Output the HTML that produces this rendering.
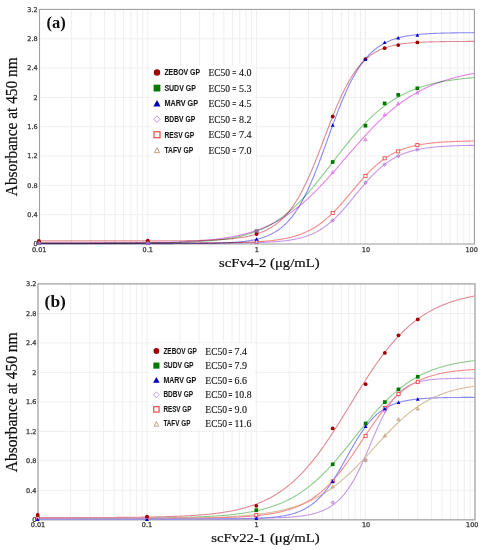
<!DOCTYPE html>
<html><head><meta charset="utf-8"><title>ELISA binding curves</title><style>
html,body{margin:0;padding:0;background:#fff;}
body{width:484px;height:550px;overflow:hidden;}
svg{display:block;}
.tk{font-family:"DejaVu Sans","Liberation Sans",sans-serif;font-size:6.5px;fill:#444;stroke:#444;stroke-width:0.32px;}
.lgn{font-family:"Liberation Sans","DejaVu Sans",sans-serif;font-size:8.4px;font-weight:bold;fill:#1a1a1a;stroke:#1a1a1a;stroke-width:0.1px;}
.ec{font-family:"Liberation Serif",serif;font-size:9.8px;fill:#111;stroke:#111;stroke-width:0.12px;}
.eq{font-weight:bold;}
.ttl{font-family:"Liberation Serif",serif;font-size:13px;fill:#111;stroke:#111;stroke-width:0.22px;}
.pl{font-family:"Liberation Serif",serif;font-size:16.3px;font-weight:bold;fill:#111;}
</style></head><body>
<svg width="484" height="550" viewBox="0 0 484 550">
<rect width="484" height="550" fill="#fff"/>
<line x1="71.67" y1="9.5" x2="71.67" y2="244.0" stroke="#efefef" stroke-width="1"/>
<line x1="90.83" y1="9.5" x2="90.83" y2="244.0" stroke="#efefef" stroke-width="1"/>
<line x1="104.43" y1="9.5" x2="104.43" y2="244.0" stroke="#efefef" stroke-width="1"/>
<line x1="114.98" y1="9.5" x2="114.98" y2="244.0" stroke="#efefef" stroke-width="1"/>
<line x1="123.60" y1="9.5" x2="123.60" y2="244.0" stroke="#efefef" stroke-width="1"/>
<line x1="130.89" y1="9.5" x2="130.89" y2="244.0" stroke="#efefef" stroke-width="1"/>
<line x1="137.20" y1="9.5" x2="137.20" y2="244.0" stroke="#efefef" stroke-width="1"/>
<line x1="142.77" y1="9.5" x2="142.77" y2="244.0" stroke="#efefef" stroke-width="1"/>
<line x1="147.75" y1="9.5" x2="147.75" y2="244.0" stroke="#efefef" stroke-width="1"/>
<line x1="180.52" y1="9.5" x2="180.52" y2="244.0" stroke="#efefef" stroke-width="1"/>
<line x1="199.68" y1="9.5" x2="199.68" y2="244.0" stroke="#efefef" stroke-width="1"/>
<line x1="213.28" y1="9.5" x2="213.28" y2="244.0" stroke="#efefef" stroke-width="1"/>
<line x1="223.83" y1="9.5" x2="223.83" y2="244.0" stroke="#efefef" stroke-width="1"/>
<line x1="232.45" y1="9.5" x2="232.45" y2="244.0" stroke="#efefef" stroke-width="1"/>
<line x1="239.74" y1="9.5" x2="239.74" y2="244.0" stroke="#efefef" stroke-width="1"/>
<line x1="246.05" y1="9.5" x2="246.05" y2="244.0" stroke="#efefef" stroke-width="1"/>
<line x1="251.62" y1="9.5" x2="251.62" y2="244.0" stroke="#efefef" stroke-width="1"/>
<line x1="256.60" y1="9.5" x2="256.60" y2="244.0" stroke="#efefef" stroke-width="1"/>
<line x1="289.37" y1="9.5" x2="289.37" y2="244.0" stroke="#efefef" stroke-width="1"/>
<line x1="308.53" y1="9.5" x2="308.53" y2="244.0" stroke="#efefef" stroke-width="1"/>
<line x1="322.13" y1="9.5" x2="322.13" y2="244.0" stroke="#efefef" stroke-width="1"/>
<line x1="332.68" y1="9.5" x2="332.68" y2="244.0" stroke="#efefef" stroke-width="1"/>
<line x1="341.30" y1="9.5" x2="341.30" y2="244.0" stroke="#efefef" stroke-width="1"/>
<line x1="348.59" y1="9.5" x2="348.59" y2="244.0" stroke="#efefef" stroke-width="1"/>
<line x1="354.90" y1="9.5" x2="354.90" y2="244.0" stroke="#efefef" stroke-width="1"/>
<line x1="360.47" y1="9.5" x2="360.47" y2="244.0" stroke="#efefef" stroke-width="1"/>
<line x1="365.45" y1="9.5" x2="365.45" y2="244.0" stroke="#efefef" stroke-width="1"/>
<line x1="398.22" y1="9.5" x2="398.22" y2="244.0" stroke="#efefef" stroke-width="1"/>
<line x1="417.38" y1="9.5" x2="417.38" y2="244.0" stroke="#efefef" stroke-width="1"/>
<line x1="430.98" y1="9.5" x2="430.98" y2="244.0" stroke="#efefef" stroke-width="1"/>
<line x1="441.53" y1="9.5" x2="441.53" y2="244.0" stroke="#efefef" stroke-width="1"/>
<line x1="450.15" y1="9.5" x2="450.15" y2="244.0" stroke="#efefef" stroke-width="1"/>
<line x1="457.44" y1="9.5" x2="457.44" y2="244.0" stroke="#efefef" stroke-width="1"/>
<line x1="463.75" y1="9.5" x2="463.75" y2="244.0" stroke="#efefef" stroke-width="1"/>
<line x1="469.32" y1="9.5" x2="469.32" y2="244.0" stroke="#efefef" stroke-width="1"/>
<line x1="38.90" y1="214.69" x2="474.30" y2="214.69" stroke="#efefef" stroke-width="1"/>
<line x1="38.90" y1="185.38" x2="474.30" y2="185.38" stroke="#efefef" stroke-width="1"/>
<line x1="38.90" y1="156.06" x2="474.30" y2="156.06" stroke="#efefef" stroke-width="1"/>
<line x1="38.90" y1="126.75" x2="474.30" y2="126.75" stroke="#efefef" stroke-width="1"/>
<line x1="38.90" y1="97.44" x2="474.30" y2="97.44" stroke="#efefef" stroke-width="1"/>
<line x1="38.90" y1="68.12" x2="474.30" y2="68.12" stroke="#efefef" stroke-width="1"/>
<line x1="38.90" y1="38.81" x2="474.30" y2="38.81" stroke="#efefef" stroke-width="1"/>
<rect x="151.5" y="65.5" width="104" height="91.5" fill="#fff"/>
<rect x="39.5" y="9.4" width="434.90" height="234.60" fill="none" stroke="#a0a0a0" stroke-width="1.1"/>
<polyline points="38.90,243.02 39.77,243.02 40.65,243.02 41.52,243.02 42.39,243.02 43.26,243.02 44.14,243.02 45.01,243.02 45.88,243.02 46.75,243.02 47.63,243.02 48.50,243.02 49.37,243.02 50.24,243.02 51.12,243.02 51.99,243.02 52.86,243.02 53.73,243.02 54.61,243.02 55.48,243.02 56.35,243.02 57.22,243.02 58.10,243.02 58.97,243.02 59.84,243.02 60.71,243.02 61.59,243.02 62.46,243.02 63.33,243.02 64.20,243.02 65.08,243.02 65.95,243.02 66.82,243.02 67.69,243.02 68.57,243.02 69.44,243.02 70.31,243.02 71.18,243.02 72.06,243.02 72.93,243.02 73.80,243.02 74.67,243.02 75.55,243.02 76.42,243.02 77.29,243.02 78.16,243.02 79.04,243.02 79.91,243.02 80.78,243.02 81.65,243.02 82.53,243.02 83.40,243.02 84.27,243.02 85.14,243.02 86.02,243.02 86.89,243.02 87.76,243.02 88.64,243.02 89.51,243.02 90.38,243.02 91.25,243.02 92.13,243.02 93.00,243.02 93.87,243.02 94.74,243.02 95.62,243.02 96.49,243.02 97.36,243.02 98.23,243.02 99.11,243.02 99.98,243.02 100.85,243.02 101.72,243.02 102.60,243.02 103.47,243.02 104.34,243.02 105.21,243.02 106.09,243.02 106.96,243.02 107.83,243.02 108.70,243.02 109.58,243.02 110.45,243.02 111.32,243.02 112.19,243.02 113.07,243.02 113.94,243.02 114.81,243.02 115.68,243.02 116.56,243.02 117.43,243.02 118.30,243.02 119.17,243.02 120.05,243.02 120.92,243.02 121.79,243.01 122.66,243.01 123.54,243.01 124.41,243.01 125.28,243.01 126.15,243.01 127.03,243.01 127.90,243.01 128.77,243.01 129.64,243.01 130.52,243.01 131.39,243.01 132.26,243.01 133.13,243.01 134.01,243.01 134.88,243.01 135.75,243.01 136.63,243.01 137.50,243.01 138.37,243.01 139.24,243.01 140.12,243.01 140.99,243.01 141.86,243.01 142.73,243.01 143.61,243.01 144.48,243.01 145.35,243.01 146.22,243.01 147.10,243.01 147.97,243.01 148.84,243.01 149.71,243.01 150.59,243.01 151.46,243.01 152.33,243.01 153.20,243.01 154.08,243.01 154.95,243.01 155.82,243.01 156.69,243.00 157.57,243.00 158.44,243.00 159.31,243.00 160.18,243.00 161.06,243.00 161.93,243.00 162.80,243.00 163.67,243.00 164.55,243.00 165.42,243.00 166.29,243.00 167.16,243.00 168.04,243.00 168.91,243.00 169.78,242.99 170.65,242.99 171.53,242.99 172.40,242.99 173.27,242.99 174.14,242.99 175.02,242.99 175.89,242.99 176.76,242.99 177.63,242.98 178.51,242.98 179.38,242.98 180.25,242.98 181.12,242.98 182.00,242.98 182.87,242.98 183.74,242.97 184.62,242.97 185.49,242.97 186.36,242.97 187.23,242.97 188.11,242.96 188.98,242.96 189.85,242.96 190.72,242.96 191.60,242.95 192.47,242.95 193.34,242.95 194.21,242.95 195.09,242.94 195.96,242.94 196.83,242.94 197.70,242.93 198.58,242.93 199.45,242.93 200.32,242.92 201.19,242.92 202.07,242.92 202.94,242.91 203.81,242.91 204.68,242.90 205.56,242.90 206.43,242.89 207.30,242.89 208.17,242.88 209.05,242.88 209.92,242.87 210.79,242.87 211.66,242.86 212.54,242.85 213.41,242.85 214.28,242.84 215.15,242.83 216.03,242.82 216.90,242.82 217.77,242.81 218.64,242.80 219.52,242.79 220.39,242.78 221.26,242.77 222.13,242.76 223.01,242.75 223.88,242.74 224.75,242.73 225.62,242.72 226.50,242.70 227.37,242.69 228.24,242.68 229.11,242.66 229.99,242.65 230.86,242.64 231.73,242.62 232.61,242.60 233.48,242.59 234.35,242.57 235.22,242.55 236.10,242.53 236.97,242.51 237.84,242.49 238.71,242.47 239.59,242.45 240.46,242.42 241.33,242.40 242.20,242.37 243.08,242.35 243.95,242.32 244.82,242.29 245.69,242.26 246.57,242.23 247.44,242.20 248.31,242.17 249.18,242.13 250.06,242.10 250.93,242.06 251.80,242.02 252.67,241.98 253.55,241.94 254.42,241.89 255.29,241.85 256.16,241.80 257.04,241.75 257.91,241.70 258.78,241.65 259.65,241.59 260.53,241.53 261.40,241.47 262.27,241.41 263.14,241.35 264.02,241.28 264.89,241.21 265.76,241.14 266.63,241.06 267.51,240.98 268.38,240.90 269.25,240.81 270.12,240.73 271.00,240.63 271.87,240.54 272.74,240.44 273.61,240.34 274.49,240.23 275.36,240.12 276.23,240.00 277.10,239.88 277.98,239.76 278.85,239.63 279.72,239.49 280.59,239.35 281.47,239.21 282.34,239.06 283.21,238.90 284.09,238.74 284.96,238.57 285.83,238.40 286.70,238.22 287.58,238.03 288.45,237.83 289.32,237.63 290.19,237.42 291.07,237.21 291.94,236.98 292.81,236.75 293.68,236.51 294.56,236.26 295.43,236.00 296.30,235.73 297.17,235.45 298.05,235.16 298.92,234.86 299.79,234.56 300.66,234.24 301.54,233.91 302.41,233.57 303.28,233.22 304.15,232.85 305.03,232.48 305.90,232.09 306.77,231.69 307.64,231.27 308.52,230.85 309.39,230.41 310.26,229.95 311.13,229.48 312.01,229.00 312.88,228.51 313.75,227.99 314.62,227.47 315.50,226.93 316.37,226.37 317.24,225.80 318.11,225.21 318.99,224.61 319.86,223.99 320.73,223.35 321.60,222.70 322.48,222.03 323.35,221.35 324.22,220.65 325.09,219.93 325.97,219.20 326.84,218.45 327.71,217.68 328.58,216.90 329.46,216.11 330.33,215.29 331.20,214.46 332.08,213.62 332.95,212.76 333.82,211.89 334.69,211.00 335.57,210.10 336.44,209.19 337.31,208.26 338.18,207.32 339.06,206.37 339.93,205.41 340.80,204.43 341.67,203.45 342.55,202.46 343.42,201.46 344.29,200.45 345.16,199.43 346.04,198.41 346.91,197.38 347.78,196.35 348.65,195.32 349.53,194.28 350.40,193.24 351.27,192.19 352.14,191.15 353.02,190.11 353.89,189.06 354.76,188.03 355.63,186.99 356.51,185.96 357.38,184.93 358.25,183.91 359.12,182.89 360.00,181.88 360.87,180.88 361.74,179.89 362.61,178.90 363.49,177.93 364.36,176.97 365.23,176.02 366.10,175.08 366.98,174.15 367.85,173.24 368.72,172.33 369.59,171.45 370.47,170.58 371.34,169.72 372.21,168.87 373.08,168.05 373.96,167.23 374.83,166.44 375.70,165.66 376.57,164.89 377.45,164.14 378.32,163.41 379.19,162.70 380.07,162.00 380.94,161.31 381.81,160.65 382.68,160.00 383.56,159.37 384.43,158.75 385.30,158.15 386.17,157.56 387.05,156.99 387.92,156.44 388.79,155.90 389.66,155.38 390.54,154.87 391.41,154.38 392.28,153.90 393.15,153.43 394.03,152.98 394.90,152.55 395.77,152.12 396.64,151.71 397.52,151.32 398.39,150.93 399.26,150.56 400.13,150.20 401.01,149.85 401.88,149.52 402.75,149.19 403.62,148.88 404.50,148.58 405.37,148.28 406.24,148.00 407.11,147.73 407.99,147.46 408.86,147.21 409.73,146.96 410.60,146.72 411.48,146.50 412.35,146.28 413.22,146.06 414.09,145.86 414.97,145.66 415.84,145.47 416.71,145.29 417.58,145.11 418.46,144.94 419.33,144.78 420.20,144.62 421.07,144.47 421.95,144.32 422.82,144.18 423.69,144.05 424.56,143.92 425.44,143.79 426.31,143.67 427.18,143.55 428.06,143.44 428.93,143.33 429.80,143.23 430.67,143.13 431.55,143.04 432.42,142.94 433.29,142.86 434.16,142.77 435.04,142.69 435.91,142.61 436.78,142.53 437.65,142.46 438.53,142.39 439.40,142.33 440.27,142.26 441.14,142.20 442.02,142.14 442.89,142.08 443.76,142.03 444.63,141.97 445.51,141.92 446.38,141.88 447.25,141.83 448.12,141.78 449.00,141.74 449.87,141.70 450.74,141.66 451.61,141.62 452.49,141.58 453.36,141.55 454.23,141.51 455.10,141.48 455.98,141.45 456.85,141.42 457.72,141.39 458.59,141.36 459.47,141.34 460.34,141.31 461.21,141.29 462.08,141.26 462.96,141.24 463.83,141.22 464.70,141.20 465.57,141.18 466.45,141.16 467.32,141.14 468.19,141.12 469.06,141.11 469.94,141.09 470.81,141.07 471.68,141.06 472.55,141.05 473.43,141.03 474.30,141.02" fill="none" stroke="#f88a8a" stroke-width="1.1"  style="mix-blend-mode:multiply"/>
<polyline points="38.90,243.22 39.77,243.22 40.65,243.22 41.52,243.22 42.39,243.22 43.26,243.22 44.14,243.22 45.01,243.22 45.88,243.22 46.75,243.22 47.63,243.22 48.50,243.22 49.37,243.22 50.24,243.22 51.12,243.22 51.99,243.22 52.86,243.22 53.73,243.22 54.61,243.22 55.48,243.22 56.35,243.22 57.22,243.22 58.10,243.22 58.97,243.22 59.84,243.22 60.71,243.22 61.59,243.22 62.46,243.22 63.33,243.22 64.20,243.22 65.08,243.22 65.95,243.22 66.82,243.22 67.69,243.22 68.57,243.22 69.44,243.21 70.31,243.21 71.18,243.21 72.06,243.21 72.93,243.21 73.80,243.21 74.67,243.21 75.55,243.21 76.42,243.21 77.29,243.21 78.16,243.21 79.04,243.21 79.91,243.21 80.78,243.21 81.65,243.21 82.53,243.21 83.40,243.21 84.27,243.20 85.14,243.20 86.02,243.20 86.89,243.20 87.76,243.20 88.64,243.20 89.51,243.20 90.38,243.20 91.25,243.20 92.13,243.20 93.00,243.19 93.87,243.19 94.74,243.19 95.62,243.19 96.49,243.19 97.36,243.19 98.23,243.19 99.11,243.19 99.98,243.18 100.85,243.18 101.72,243.18 102.60,243.18 103.47,243.18 104.34,243.18 105.21,243.17 106.09,243.17 106.96,243.17 107.83,243.17 108.70,243.17 109.58,243.17 110.45,243.16 111.32,243.16 112.19,243.16 113.07,243.16 113.94,243.15 114.81,243.15 115.68,243.15 116.56,243.15 117.43,243.14 118.30,243.14 119.17,243.14 120.05,243.14 120.92,243.13 121.79,243.13 122.66,243.13 123.54,243.12 124.41,243.12 125.28,243.12 126.15,243.11 127.03,243.11 127.90,243.10 128.77,243.10 129.64,243.10 130.52,243.09 131.39,243.09 132.26,243.08 133.13,243.08 134.01,243.07 134.88,243.07 135.75,243.06 136.63,243.06 137.50,243.05 138.37,243.05 139.24,243.04 140.12,243.03 140.99,243.03 141.86,243.02 142.73,243.01 143.61,243.01 144.48,243.00 145.35,242.99 146.22,242.98 147.10,242.98 147.97,242.97 148.84,242.96 149.71,242.95 150.59,242.94 151.46,242.93 152.33,242.92 153.20,242.91 154.08,242.90 154.95,242.89 155.82,242.88 156.69,242.87 157.57,242.86 158.44,242.85 159.31,242.83 160.18,242.82 161.06,242.81 161.93,242.79 162.80,242.78 163.67,242.77 164.55,242.75 165.42,242.74 166.29,242.72 167.16,242.70 168.04,242.69 168.91,242.67 169.78,242.65 170.65,242.63 171.53,242.61 172.40,242.59 173.27,242.57 174.14,242.55 175.02,242.53 175.89,242.51 176.76,242.48 177.63,242.46 178.51,242.44 179.38,242.41 180.25,242.38 181.12,242.36 182.00,242.33 182.87,242.30 183.74,242.27 184.62,242.24 185.49,242.21 186.36,242.18 187.23,242.14 188.11,242.11 188.98,242.07 189.85,242.03 190.72,242.00 191.60,241.96 192.47,241.92 193.34,241.87 194.21,241.83 195.09,241.79 195.96,241.74 196.83,241.69 197.70,241.65 198.58,241.60 199.45,241.54 200.32,241.49 201.19,241.44 202.07,241.38 202.94,241.32 203.81,241.26 204.68,241.20 205.56,241.13 206.43,241.07 207.30,241.00 208.17,240.93 209.05,240.86 209.92,240.78 210.79,240.71 211.66,240.63 212.54,240.55 213.41,240.46 214.28,240.38 215.15,240.29 216.03,240.20 216.90,240.10 217.77,240.00 218.64,239.90 219.52,239.80 220.39,239.69 221.26,239.59 222.13,239.47 223.01,239.36 223.88,239.24 224.75,239.11 225.62,238.99 226.50,238.86 227.37,238.72 228.24,238.59 229.11,238.44 229.99,238.30 230.86,238.15 231.73,237.99 232.61,237.83 233.48,237.67 234.35,237.50 235.22,237.33 236.10,237.15 236.97,236.97 237.84,236.78 238.71,236.59 239.59,236.39 240.46,236.19 241.33,235.98 242.20,235.76 243.08,235.54 243.95,235.31 244.82,235.08 245.69,234.84 246.57,234.59 247.44,234.34 248.31,234.08 249.18,233.81 250.06,233.54 250.93,233.26 251.80,232.97 252.67,232.67 253.55,232.37 254.42,232.06 255.29,231.74 256.16,231.41 257.04,231.07 257.91,230.73 258.78,230.38 259.65,230.02 260.53,229.65 261.40,229.27 262.27,228.88 263.14,228.48 264.02,228.07 264.89,227.66 265.76,227.23 266.63,226.79 267.51,226.35 268.38,225.89 269.25,225.42 270.12,224.94 271.00,224.45 271.87,223.95 272.74,223.44 273.61,222.92 274.49,222.39 275.36,221.85 276.23,221.29 277.10,220.72 277.98,220.15 278.85,219.56 279.72,218.95 280.59,218.34 281.47,217.71 282.34,217.08 283.21,216.43 284.09,215.77 284.96,215.09 285.83,214.40 286.70,213.71 287.58,212.99 288.45,212.27 289.32,211.54 290.19,210.79 291.07,210.03 291.94,209.25 292.81,208.47 293.68,207.67 294.56,206.86 295.43,206.04 296.30,205.21 297.17,204.36 298.05,203.51 298.92,202.64 299.79,201.76 300.66,200.86 301.54,199.96 302.41,199.04 303.28,198.12 304.15,197.18 305.03,196.23 305.90,195.27 306.77,194.31 307.64,193.33 308.52,192.34 309.39,191.34 310.26,190.33 311.13,189.32 312.01,188.29 312.88,187.26 313.75,186.21 314.62,185.16 315.50,184.11 316.37,183.04 317.24,181.97 318.11,180.89 318.99,179.80 319.86,178.71 320.73,177.61 321.60,176.51 322.48,175.41 323.35,174.29 324.22,173.18 325.09,172.06 325.97,170.94 326.84,169.81 327.71,168.68 328.58,167.55 329.46,166.42 330.33,165.29 331.20,164.15 332.08,163.02 332.95,161.88 333.82,160.75 334.69,159.62 335.57,158.48 336.44,157.35 337.31,156.22 338.18,155.10 339.06,153.97 339.93,152.85 340.80,151.73 341.67,150.62 342.55,149.51 343.42,148.40 344.29,147.30 345.16,146.21 346.04,145.12 346.91,144.03 347.78,142.95 348.65,141.88 349.53,140.82 350.40,139.76 351.27,138.71 352.14,137.67 353.02,136.63 353.89,135.61 354.76,134.59 355.63,133.58 356.51,132.58 357.38,131.59 358.25,130.61 359.12,129.63 360.00,128.67 360.87,127.72 361.74,126.77 362.61,125.84 363.49,124.92 364.36,124.00 365.23,123.10 366.10,122.21 366.98,121.33 367.85,120.46 368.72,119.60 369.59,118.75 370.47,117.91 371.34,117.09 372.21,116.27 373.08,115.47 373.96,114.68 374.83,113.90 375.70,113.13 376.57,112.37 377.45,111.62 378.32,110.88 379.19,110.16 380.07,109.44 380.94,108.74 381.81,108.05 382.68,107.37 383.56,106.70 384.43,106.04 385.30,105.39 386.17,104.75 387.05,104.13 387.92,103.51 388.79,102.91 389.66,102.31 390.54,101.73 391.41,101.15 392.28,100.59 393.15,100.04 394.03,99.49 394.90,98.96 395.77,98.44 396.64,97.92 397.52,97.42 398.39,96.92 399.26,96.44 400.13,95.96 401.01,95.50 401.88,95.04 402.75,94.59 403.62,94.15 404.50,93.72 405.37,93.30 406.24,92.88 407.11,92.48 407.99,92.08 408.86,91.69 409.73,91.31 410.60,90.93 411.48,90.57 412.35,90.21 413.22,89.86 414.09,89.51 414.97,89.18 415.84,88.85 416.71,88.52 417.58,88.21 418.46,87.90 419.33,87.60 420.20,87.30 421.07,87.01 421.95,86.73 422.82,86.45 423.69,86.18 424.56,85.92 425.44,85.66 426.31,85.40 427.18,85.16 428.06,84.91 428.93,84.68 429.80,84.44 430.67,84.22 431.55,84.00 432.42,83.78 433.29,83.57 434.16,83.36 435.04,83.16 435.91,82.96 436.78,82.77 437.65,82.58 438.53,82.40 439.40,82.22 440.27,82.04 441.14,81.87 442.02,81.70 442.89,81.54 443.76,81.38 444.63,81.22 445.51,81.07 446.38,80.92 447.25,80.77 448.12,80.63 449.00,80.49 449.87,80.35 450.74,80.22 451.61,80.09 452.49,79.96 453.36,79.84 454.23,79.72 455.10,79.60 455.98,79.49 456.85,79.38 457.72,79.27 458.59,79.16 459.47,79.05 460.34,78.95 461.21,78.85 462.08,78.75 462.96,78.66 463.83,78.57 464.70,78.48 465.57,78.39 466.45,78.30 467.32,78.22 468.19,78.14 469.06,78.06 469.94,77.98 470.81,77.90 471.68,77.83 472.55,77.75 473.43,77.68 474.30,77.61" fill="none" stroke="#8ccc8c" stroke-width="1.1"  style="mix-blend-mode:multiply"/>
<polyline points="38.90,240.91 39.77,240.91 40.65,240.91 41.52,240.91 42.39,240.91 43.26,240.91 44.14,240.91 45.01,240.91 45.88,240.91 46.75,240.91 47.63,240.91 48.50,240.91 49.37,240.91 50.24,240.91 51.12,240.91 51.99,240.91 52.86,240.91 53.73,240.91 54.61,240.91 55.48,240.91 56.35,240.91 57.22,240.91 58.10,240.91 58.97,240.91 59.84,240.91 60.71,240.91 61.59,240.91 62.46,240.91 63.33,240.91 64.20,240.91 65.08,240.91 65.95,240.91 66.82,240.91 67.69,240.91 68.57,240.91 69.44,240.91 70.31,240.91 71.18,240.91 72.06,240.91 72.93,240.91 73.80,240.91 74.67,240.91 75.55,240.91 76.42,240.91 77.29,240.91 78.16,240.91 79.04,240.91 79.91,240.91 80.78,240.91 81.65,240.91 82.53,240.91 83.40,240.91 84.27,240.90 85.14,240.90 86.02,240.90 86.89,240.90 87.76,240.90 88.64,240.90 89.51,240.90 90.38,240.90 91.25,240.90 92.13,240.90 93.00,240.90 93.87,240.90 94.74,240.90 95.62,240.90 96.49,240.90 97.36,240.90 98.23,240.90 99.11,240.90 99.98,240.90 100.85,240.90 101.72,240.90 102.60,240.90 103.47,240.90 104.34,240.90 105.21,240.90 106.09,240.90 106.96,240.90 107.83,240.90 108.70,240.90 109.58,240.90 110.45,240.90 111.32,240.90 112.19,240.90 113.07,240.90 113.94,240.90 114.81,240.90 115.68,240.90 116.56,240.90 117.43,240.90 118.30,240.90 119.17,240.90 120.05,240.90 120.92,240.90 121.79,240.90 122.66,240.89 123.54,240.89 124.41,240.89 125.28,240.89 126.15,240.89 127.03,240.89 127.90,240.89 128.77,240.89 129.64,240.89 130.52,240.89 131.39,240.89 132.26,240.89 133.13,240.89 134.01,240.89 134.88,240.88 135.75,240.88 136.63,240.88 137.50,240.88 138.37,240.88 139.24,240.88 140.12,240.88 140.99,240.88 141.86,240.88 142.73,240.88 143.61,240.87 144.48,240.87 145.35,240.87 146.22,240.87 147.10,240.87 147.97,240.87 148.84,240.86 149.71,240.86 150.59,240.86 151.46,240.86 152.33,240.86 153.20,240.85 154.08,240.85 154.95,240.85 155.82,240.85 156.69,240.85 157.57,240.84 158.44,240.84 159.31,240.84 160.18,240.83 161.06,240.83 161.93,240.83 162.80,240.82 163.67,240.82 164.55,240.82 165.42,240.81 166.29,240.81 167.16,240.81 168.04,240.80 168.91,240.80 169.78,240.79 170.65,240.79 171.53,240.78 172.40,240.78 173.27,240.77 174.14,240.77 175.02,240.76 175.89,240.75 176.76,240.75 177.63,240.74 178.51,240.73 179.38,240.73 180.25,240.72 181.12,240.71 182.00,240.70 182.87,240.69 183.74,240.68 184.62,240.68 185.49,240.67 186.36,240.66 187.23,240.64 188.11,240.63 188.98,240.62 189.85,240.61 190.72,240.60 191.60,240.58 192.47,240.57 193.34,240.56 194.21,240.54 195.09,240.53 195.96,240.51 196.83,240.49 197.70,240.48 198.58,240.46 199.45,240.44 200.32,240.42 201.19,240.40 202.07,240.38 202.94,240.36 203.81,240.33 204.68,240.31 205.56,240.28 206.43,240.26 207.30,240.23 208.17,240.20 209.05,240.17 209.92,240.14 210.79,240.11 211.66,240.08 212.54,240.04 213.41,240.00 214.28,239.97 215.15,239.93 216.03,239.88 216.90,239.84 217.77,239.80 218.64,239.75 219.52,239.70 220.39,239.65 221.26,239.60 222.13,239.54 223.01,239.49 223.88,239.43 224.75,239.36 225.62,239.30 226.50,239.23 227.37,239.16 228.24,239.09 229.11,239.01 229.99,238.93 230.86,238.85 231.73,238.76 232.61,238.67 233.48,238.58 234.35,238.48 235.22,238.38 236.10,238.27 236.97,238.16 237.84,238.05 238.71,237.93 239.59,237.81 240.46,237.68 241.33,237.54 242.20,237.40 243.08,237.25 243.95,237.10 244.82,236.94 245.69,236.78 246.57,236.60 247.44,236.42 248.31,236.24 249.18,236.04 250.06,235.84 250.93,235.63 251.80,235.41 252.67,235.18 253.55,234.95 254.42,234.70 255.29,234.44 256.16,234.17 257.04,233.90 257.91,233.61 258.78,233.30 259.65,232.99 260.53,232.67 261.40,232.33 262.27,231.97 263.14,231.61 264.02,231.23 264.89,230.83 265.76,230.42 266.63,229.99 267.51,229.55 268.38,229.08 269.25,228.60 270.12,228.11 271.00,227.59 271.87,227.05 272.74,226.49 273.61,225.91 274.49,225.31 275.36,224.69 276.23,224.04 277.10,223.37 277.98,222.67 278.85,221.95 279.72,221.21 280.59,220.43 281.47,219.63 282.34,218.80 283.21,217.94 284.09,217.05 284.96,216.13 285.83,215.18 286.70,214.19 287.58,213.18 288.45,212.13 289.32,211.04 290.19,209.92 291.07,208.77 291.94,207.57 292.81,206.35 293.68,205.08 294.56,203.78 295.43,202.43 296.30,201.05 297.17,199.63 298.05,198.17 298.92,196.68 299.79,195.14 300.66,193.56 301.54,191.94 302.41,190.29 303.28,188.59 304.15,186.85 305.03,185.08 305.90,183.27 306.77,181.42 307.64,179.53 308.52,177.61 309.39,175.65 310.26,173.66 311.13,171.63 312.01,169.58 312.88,167.49 313.75,165.38 314.62,163.23 315.50,161.07 316.37,158.87 317.24,156.66 318.11,154.43 318.99,152.18 319.86,149.92 320.73,147.64 321.60,145.35 322.48,143.05 323.35,140.75 324.22,138.45 325.09,136.14 325.97,133.84 326.84,131.54 327.71,129.24 328.58,126.96 329.46,124.69 330.33,122.43 331.20,120.19 332.08,117.97 332.95,115.77 333.82,113.59 334.69,111.44 335.57,109.31 336.44,107.21 337.31,105.15 338.18,103.12 339.06,101.12 339.93,99.15 340.80,97.23 341.67,95.34 342.55,93.49 343.42,91.68 344.29,89.91 345.16,88.18 346.04,86.49 346.91,84.84 347.78,83.24 348.65,81.68 349.53,80.16 350.40,78.69 351.27,77.25 352.14,75.86 353.02,74.52 353.89,73.21 354.76,71.94 355.63,70.72 356.51,69.53 357.38,68.39 358.25,67.28 359.12,66.21 360.00,65.18 360.87,64.19 361.74,63.23 362.61,62.31 363.49,61.42 364.36,60.56 365.23,59.74 366.10,58.95 366.98,58.19 367.85,57.46 368.72,56.75 369.59,56.08 370.47,55.43 371.34,54.81 372.21,54.21 373.08,53.64 373.96,53.10 374.83,52.57 375.70,52.07 376.57,51.59 377.45,51.12 378.32,50.68 379.19,50.26 380.07,49.86 380.94,49.47 381.81,49.10 382.68,48.75 383.56,48.41 384.43,48.08 385.30,47.77 386.17,47.48 387.05,47.20 387.92,46.93 388.79,46.67 389.66,46.42 390.54,46.19 391.41,45.96 392.28,45.75 393.15,45.55 394.03,45.35 394.90,45.16 395.77,44.99 396.64,44.82 397.52,44.65 398.39,44.50 399.26,44.35 400.13,44.21 401.01,44.08 401.88,43.95 402.75,43.83 403.62,43.71 404.50,43.60 405.37,43.50 406.24,43.39 407.11,43.30 407.99,43.21 408.86,43.12 409.73,43.04 410.60,42.96 411.48,42.88 412.35,42.81 413.22,42.74 414.09,42.68 414.97,42.61 415.84,42.55 416.71,42.50 417.58,42.44 418.46,42.39 419.33,42.34 420.20,42.30 421.07,42.25 421.95,42.21 422.82,42.17 423.69,42.13 424.56,42.09 425.44,42.06 426.31,42.02 427.18,41.99 428.06,41.96 428.93,41.93 429.80,41.91 430.67,41.88 431.55,41.85 432.42,41.83 433.29,41.81 434.16,41.79 435.04,41.77 435.91,41.75 436.78,41.73 437.65,41.71 438.53,41.69 439.40,41.68 440.27,41.66 441.14,41.65 442.02,41.63 442.89,41.62 443.76,41.61 444.63,41.60 445.51,41.58 446.38,41.57 447.25,41.56 448.12,41.55 449.00,41.54 449.87,41.53 450.74,41.53 451.61,41.52 452.49,41.51 453.36,41.50 454.23,41.50 455.10,41.49 455.98,41.48 456.85,41.48 457.72,41.47 458.59,41.47 459.47,41.46 460.34,41.45 461.21,41.45 462.08,41.45 462.96,41.44 463.83,41.44 464.70,41.43 465.57,41.43 466.45,41.43 467.32,41.42 468.19,41.42 469.06,41.42 469.94,41.41 470.81,41.41 471.68,41.41 472.55,41.41 473.43,41.40 474.30,41.40" fill="none" stroke="#de8a94" stroke-width="1.1"  style="mix-blend-mode:multiply"/>
<polyline points="38.90,243.62 39.77,243.62 40.65,243.62 41.52,243.62 42.39,243.62 43.26,243.62 44.14,243.62 45.01,243.62 45.88,243.62 46.75,243.62 47.63,243.62 48.50,243.62 49.37,243.62 50.24,243.62 51.12,243.62 51.99,243.62 52.86,243.62 53.73,243.62 54.61,243.62 55.48,243.62 56.35,243.62 57.22,243.62 58.10,243.62 58.97,243.62 59.84,243.62 60.71,243.62 61.59,243.62 62.46,243.62 63.33,243.62 64.20,243.62 65.08,243.62 65.95,243.62 66.82,243.62 67.69,243.62 68.57,243.62 69.44,243.62 70.31,243.62 71.18,243.62 72.06,243.62 72.93,243.62 73.80,243.62 74.67,243.62 75.55,243.62 76.42,243.62 77.29,243.62 78.16,243.62 79.04,243.62 79.91,243.62 80.78,243.62 81.65,243.62 82.53,243.62 83.40,243.62 84.27,243.62 85.14,243.62 86.02,243.62 86.89,243.62 87.76,243.62 88.64,243.62 89.51,243.62 90.38,243.62 91.25,243.62 92.13,243.62 93.00,243.62 93.87,243.62 94.74,243.62 95.62,243.62 96.49,243.62 97.36,243.62 98.23,243.62 99.11,243.62 99.98,243.62 100.85,243.62 101.72,243.62 102.60,243.62 103.47,243.62 104.34,243.62 105.21,243.62 106.09,243.62 106.96,243.62 107.83,243.62 108.70,243.62 109.58,243.62 110.45,243.62 111.32,243.62 112.19,243.62 113.07,243.62 113.94,243.62 114.81,243.62 115.68,243.62 116.56,243.62 117.43,243.62 118.30,243.62 119.17,243.62 120.05,243.62 120.92,243.62 121.79,243.62 122.66,243.62 123.54,243.62 124.41,243.62 125.28,243.62 126.15,243.62 127.03,243.62 127.90,243.62 128.77,243.62 129.64,243.62 130.52,243.62 131.39,243.62 132.26,243.62 133.13,243.62 134.01,243.62 134.88,243.62 135.75,243.61 136.63,243.61 137.50,243.61 138.37,243.61 139.24,243.61 140.12,243.61 140.99,243.61 141.86,243.61 142.73,243.61 143.61,243.61 144.48,243.61 145.35,243.61 146.22,243.61 147.10,243.61 147.97,243.61 148.84,243.61 149.71,243.61 150.59,243.61 151.46,243.61 152.33,243.61 153.20,243.61 154.08,243.61 154.95,243.60 155.82,243.60 156.69,243.60 157.57,243.60 158.44,243.60 159.31,243.60 160.18,243.60 161.06,243.60 161.93,243.60 162.80,243.60 163.67,243.59 164.55,243.59 165.42,243.59 166.29,243.59 167.16,243.59 168.04,243.59 168.91,243.59 169.78,243.58 170.65,243.58 171.53,243.58 172.40,243.58 173.27,243.58 174.14,243.57 175.02,243.57 175.89,243.57 176.76,243.57 177.63,243.56 178.51,243.56 179.38,243.56 180.25,243.55 181.12,243.55 182.00,243.55 182.87,243.54 183.74,243.54 184.62,243.54 185.49,243.53 186.36,243.53 187.23,243.52 188.11,243.52 188.98,243.51 189.85,243.51 190.72,243.50 191.60,243.50 192.47,243.49 193.34,243.49 194.21,243.48 195.09,243.47 195.96,243.46 196.83,243.46 197.70,243.45 198.58,243.44 199.45,243.43 200.32,243.42 201.19,243.41 202.07,243.40 202.94,243.39 203.81,243.38 204.68,243.37 205.56,243.36 206.43,243.34 207.30,243.33 208.17,243.31 209.05,243.30 209.92,243.28 210.79,243.27 211.66,243.25 212.54,243.23 213.41,243.21 214.28,243.19 215.15,243.17 216.03,243.15 216.90,243.12 217.77,243.10 218.64,243.07 219.52,243.05 220.39,243.02 221.26,242.99 222.13,242.96 223.01,242.93 223.88,242.89 224.75,242.86 225.62,242.82 226.50,242.78 227.37,242.74 228.24,242.69 229.11,242.65 229.99,242.60 230.86,242.55 231.73,242.50 232.61,242.44 233.48,242.38 234.35,242.32 235.22,242.26 236.10,242.19 236.97,242.12 237.84,242.05 238.71,241.97 239.59,241.89 240.46,241.81 241.33,241.72 242.20,241.63 243.08,241.53 243.95,241.43 244.82,241.32 245.69,241.21 246.57,241.09 247.44,240.97 248.31,240.84 249.18,240.70 250.06,240.56 250.93,240.41 251.80,240.26 252.67,240.09 253.55,239.92 254.42,239.75 255.29,239.56 256.16,239.36 257.04,239.16 257.91,238.94 258.78,238.72 259.65,238.48 260.53,238.24 261.40,237.98 262.27,237.71 263.14,237.43 264.02,237.14 264.89,236.83 265.76,236.51 266.63,236.17 267.51,235.82 268.38,235.45 269.25,235.07 270.12,234.67 271.00,234.25 271.87,233.81 272.74,233.35 273.61,232.88 274.49,232.38 275.36,231.86 276.23,231.32 277.10,230.76 277.98,230.17 278.85,229.56 279.72,228.92 280.59,228.26 281.47,227.56 282.34,226.84 283.21,226.10 284.09,225.32 284.96,224.51 285.83,223.67 286.70,222.79 287.58,221.89 288.45,220.95 289.32,219.97 290.19,218.96 291.07,217.91 291.94,216.82 292.81,215.70 293.68,214.54 294.56,213.33 295.43,212.09 296.30,210.81 297.17,209.48 298.05,208.11 298.92,206.70 299.79,205.25 300.66,203.75 301.54,202.21 302.41,200.63 303.28,199.00 304.15,197.33 305.03,195.61 305.90,193.86 306.77,192.06 307.64,190.22 308.52,188.33 309.39,186.41 310.26,184.44 311.13,182.44 312.01,180.40 312.88,178.32 313.75,176.20 314.62,174.05 315.50,171.87 316.37,169.66 317.24,167.42 318.11,165.15 318.99,162.85 319.86,160.53 320.73,158.19 321.60,155.83 322.48,153.46 323.35,151.07 324.22,148.67 325.09,146.25 325.97,143.83 326.84,141.41 327.71,138.98 328.58,136.56 329.46,134.14 330.33,131.72 331.20,129.31 332.08,126.92 332.95,124.53 333.82,122.16 334.69,119.81 335.57,117.48 336.44,115.17 337.31,112.88 338.18,110.62 339.06,108.39 339.93,106.19 340.80,104.01 341.67,101.88 342.55,99.77 343.42,97.70 344.29,95.67 345.16,93.67 346.04,91.72 346.91,89.80 347.78,87.92 348.65,86.09 349.53,84.29 350.40,82.54 351.27,80.83 352.14,79.16 353.02,77.53 353.89,75.95 354.76,74.41 355.63,72.91 356.51,71.45 357.38,70.03 358.25,68.66 359.12,67.32 360.00,66.03 360.87,64.77 361.74,63.56 362.61,62.38 363.49,61.24 364.36,60.14 365.23,59.07 366.10,58.04 366.98,57.05 367.85,56.09 368.72,55.16 369.59,54.26 370.47,53.40 371.34,52.57 372.21,51.76 373.08,50.99 373.96,50.24 374.83,49.53 375.70,48.84 376.57,48.17 377.45,47.53 378.32,46.92 379.19,46.32 380.07,45.75 380.94,45.21 381.81,44.68 382.68,44.18 383.56,43.69 384.43,43.23 385.30,42.78 386.17,42.35 387.05,41.94 387.92,41.54 388.79,41.16 389.66,40.80 390.54,40.45 391.41,40.11 392.28,39.79 393.15,39.48 394.03,39.19 394.90,38.91 395.77,38.63 396.64,38.37 397.52,38.13 398.39,37.89 399.26,37.66 400.13,37.44 401.01,37.23 401.88,37.03 402.75,36.83 403.62,36.65 404.50,36.47 405.37,36.30 406.24,36.14 407.11,35.99 407.99,35.84 408.86,35.70 409.73,35.56 410.60,35.43 411.48,35.31 412.35,35.19 413.22,35.07 414.09,34.96 414.97,34.86 415.84,34.76 416.71,34.66 417.58,34.57 418.46,34.48 419.33,34.40 420.20,34.32 421.07,34.24 421.95,34.17 422.82,34.10 423.69,34.03 424.56,33.97 425.44,33.91 426.31,33.85 427.18,33.79 428.06,33.74 428.93,33.69 429.80,33.64 430.67,33.59 431.55,33.55 432.42,33.50 433.29,33.46 434.16,33.42 435.04,33.38 435.91,33.35 436.78,33.31 437.65,33.28 438.53,33.25 439.40,33.22 440.27,33.19 441.14,33.16 442.02,33.14 442.89,33.11 443.76,33.09 444.63,33.06 445.51,33.04 446.38,33.02 447.25,33.00 448.12,32.98 449.00,32.96 449.87,32.95 450.74,32.93 451.61,32.91 452.49,32.90 453.36,32.88 454.23,32.87 455.10,32.86 455.98,32.84 456.85,32.83 457.72,32.82 458.59,32.81 459.47,32.80 460.34,32.79 461.21,32.78 462.08,32.77 462.96,32.76 463.83,32.75 464.70,32.74 465.57,32.73 466.45,32.73 467.32,32.72 468.19,32.71 469.06,32.71 469.94,32.70 470.81,32.69 471.68,32.69 472.55,32.68 473.43,32.68 474.30,32.67" fill="none" stroke="#8a8af2" stroke-width="1.1"  style="mix-blend-mode:multiply"/>
<polyline points="38.90,243.25 39.77,243.25 40.65,243.25 41.52,243.25 42.39,243.25 43.26,243.25 44.14,243.25 45.01,243.25 45.88,243.25 46.75,243.25 47.63,243.25 48.50,243.24 49.37,243.24 50.24,243.24 51.12,243.24 51.99,243.24 52.86,243.24 53.73,243.24 54.61,243.24 55.48,243.24 56.35,243.24 57.22,243.24 58.10,243.24 58.97,243.24 59.84,243.23 60.71,243.23 61.59,243.23 62.46,243.23 63.33,243.23 64.20,243.23 65.08,243.23 65.95,243.23 66.82,243.23 67.69,243.23 68.57,243.22 69.44,243.22 70.31,243.22 71.18,243.22 72.06,243.22 72.93,243.22 73.80,243.22 74.67,243.21 75.55,243.21 76.42,243.21 77.29,243.21 78.16,243.21 79.04,243.21 79.91,243.20 80.78,243.20 81.65,243.20 82.53,243.20 83.40,243.20 84.27,243.20 85.14,243.19 86.02,243.19 86.89,243.19 87.76,243.19 88.64,243.18 89.51,243.18 90.38,243.18 91.25,243.18 92.13,243.18 93.00,243.17 93.87,243.17 94.74,243.17 95.62,243.16 96.49,243.16 97.36,243.16 98.23,243.16 99.11,243.15 99.98,243.15 100.85,243.15 101.72,243.14 102.60,243.14 103.47,243.14 104.34,243.13 105.21,243.13 106.09,243.12 106.96,243.12 107.83,243.12 108.70,243.11 109.58,243.11 110.45,243.10 111.32,243.10 112.19,243.09 113.07,243.09 113.94,243.08 114.81,243.08 115.68,243.07 116.56,243.07 117.43,243.06 118.30,243.06 119.17,243.05 120.05,243.05 120.92,243.04 121.79,243.03 122.66,243.03 123.54,243.02 124.41,243.01 125.28,243.01 126.15,243.00 127.03,242.99 127.90,242.99 128.77,242.98 129.64,242.97 130.52,242.96 131.39,242.95 132.26,242.95 133.13,242.94 134.01,242.93 134.88,242.92 135.75,242.91 136.63,242.90 137.50,242.89 138.37,242.88 139.24,242.87 140.12,242.86 140.99,242.85 141.86,242.83 142.73,242.82 143.61,242.81 144.48,242.80 145.35,242.79 146.22,242.77 147.10,242.76 147.97,242.75 148.84,242.73 149.71,242.72 150.59,242.70 151.46,242.69 152.33,242.67 153.20,242.65 154.08,242.64 154.95,242.62 155.82,242.60 156.69,242.58 157.57,242.57 158.44,242.55 159.31,242.53 160.18,242.51 161.06,242.49 161.93,242.47 162.80,242.44 163.67,242.42 164.55,242.40 165.42,242.38 166.29,242.35 167.16,242.33 168.04,242.30 168.91,242.28 169.78,242.25 170.65,242.22 171.53,242.19 172.40,242.16 173.27,242.14 174.14,242.10 175.02,242.07 175.89,242.04 176.76,242.01 177.63,241.97 178.51,241.94 179.38,241.90 180.25,241.87 181.12,241.83 182.00,241.79 182.87,241.75 183.74,241.71 184.62,241.67 185.49,241.63 186.36,241.58 187.23,241.54 188.11,241.49 188.98,241.45 189.85,241.40 190.72,241.35 191.60,241.30 192.47,241.24 193.34,241.19 194.21,241.14 195.09,241.08 195.96,241.02 196.83,240.96 197.70,240.90 198.58,240.84 199.45,240.77 200.32,240.71 201.19,240.64 202.07,240.57 202.94,240.50 203.81,240.43 204.68,240.35 205.56,240.28 206.43,240.20 207.30,240.12 208.17,240.03 209.05,239.95 209.92,239.86 210.79,239.77 211.66,239.68 212.54,239.59 213.41,239.49 214.28,239.39 215.15,239.29 216.03,239.19 216.90,239.08 217.77,238.98 218.64,238.86 219.52,238.75 220.39,238.63 221.26,238.51 222.13,238.39 223.01,238.27 223.88,238.14 224.75,238.01 225.62,237.87 226.50,237.73 227.37,237.59 228.24,237.45 229.11,237.30 229.99,237.15 230.86,236.99 231.73,236.83 232.61,236.67 233.48,236.50 234.35,236.33 235.22,236.15 236.10,235.98 236.97,235.79 237.84,235.60 238.71,235.41 239.59,235.22 240.46,235.01 241.33,234.81 242.20,234.60 243.08,234.38 243.95,234.16 244.82,233.94 245.69,233.71 246.57,233.47 247.44,233.23 248.31,232.99 249.18,232.74 250.06,232.48 250.93,232.22 251.80,231.95 252.67,231.67 253.55,231.39 254.42,231.11 255.29,230.82 256.16,230.52 257.04,230.21 257.91,229.90 258.78,229.58 259.65,229.26 260.53,228.93 261.40,228.59 262.27,228.24 263.14,227.89 264.02,227.53 264.89,227.17 265.76,226.79 266.63,226.41 267.51,226.02 268.38,225.63 269.25,225.22 270.12,224.81 271.00,224.39 271.87,223.96 272.74,223.53 273.61,223.09 274.49,222.63 275.36,222.17 276.23,221.70 277.10,221.23 277.98,220.74 278.85,220.25 279.72,219.74 280.59,219.23 281.47,218.71 282.34,218.18 283.21,217.64 284.09,217.10 284.96,216.54 285.83,215.97 286.70,215.40 287.58,214.81 288.45,214.22 289.32,213.62 290.19,213.01 291.07,212.39 291.94,211.76 292.81,211.12 293.68,210.47 294.56,209.81 295.43,209.14 296.30,208.46 297.17,207.78 298.05,207.08 298.92,206.38 299.79,205.66 300.66,204.94 301.54,204.20 302.41,203.46 303.28,202.71 304.15,201.95 305.03,201.18 305.90,200.40 306.77,199.62 307.64,198.82 308.52,198.01 309.39,197.20 310.26,196.38 311.13,195.55 312.01,194.71 312.88,193.86 313.75,193.01 314.62,192.15 315.50,191.28 316.37,190.40 317.24,189.51 318.11,188.62 318.99,187.72 319.86,186.82 320.73,185.90 321.60,184.98 322.48,184.06 323.35,183.12 324.22,182.18 325.09,181.24 325.97,180.29 326.84,179.33 327.71,178.37 328.58,177.41 329.46,176.44 330.33,175.46 331.20,174.48 332.08,173.50 332.95,172.51 333.82,171.52 334.69,170.52 335.57,169.53 336.44,168.53 337.31,167.52 338.18,166.52 339.06,165.51 339.93,164.50 340.80,163.49 341.67,162.48 342.55,161.47 343.42,160.45 344.29,159.44 345.16,158.42 346.04,157.41 346.91,156.39 347.78,155.38 348.65,154.37 349.53,153.36 350.40,152.35 351.27,151.34 352.14,150.33 353.02,149.32 353.89,148.32 354.76,147.32 355.63,146.32 356.51,145.33 357.38,144.34 358.25,143.35 359.12,142.37 360.00,141.39 360.87,140.41 361.74,139.44 362.61,138.47 363.49,137.51 364.36,136.55 365.23,135.60 366.10,134.65 366.98,133.71 367.85,132.78 368.72,131.85 369.59,130.93 370.47,130.01 371.34,129.10 372.21,128.19 373.08,127.30 373.96,126.41 374.83,125.52 375.70,124.65 376.57,123.78 377.45,122.92 378.32,122.06 379.19,121.21 380.07,120.37 380.94,119.54 381.81,118.72 382.68,117.90 383.56,117.10 384.43,116.30 385.30,115.51 386.17,114.72 387.05,113.95 387.92,113.18 388.79,112.42 389.66,111.67 390.54,110.93 391.41,110.20 392.28,109.47 393.15,108.76 394.03,108.05 394.90,107.35 395.77,106.66 396.64,105.98 397.52,105.31 398.39,104.64 399.26,103.99 400.13,103.34 401.01,102.70 401.88,102.07 402.75,101.45 403.62,100.83 404.50,100.23 405.37,99.63 406.24,99.04 407.11,98.46 407.99,97.89 408.86,97.33 409.73,96.77 410.60,96.23 411.48,95.69 412.35,95.16 413.22,94.63 414.09,94.12 414.97,93.61 415.84,93.11 416.71,92.62 417.58,92.13 418.46,91.66 419.33,91.19 420.20,90.73 421.07,90.27 421.95,89.83 422.82,89.39 423.69,88.95 424.56,88.53 425.44,88.11 426.31,87.70 427.18,87.29 428.06,86.89 428.93,86.50 429.80,86.12 430.67,85.74 431.55,85.37 432.42,85.00 433.29,84.64 434.16,84.29 435.04,83.95 435.91,83.60 436.78,83.27 437.65,82.94 438.53,82.62 439.40,82.30 440.27,81.99 441.14,81.68 442.02,81.38 442.89,81.09 443.76,80.80 444.63,80.51 445.51,80.24 446.38,79.96 447.25,79.69 448.12,79.43 449.00,79.17 449.87,78.91 450.74,78.67 451.61,78.42 452.49,78.18 453.36,77.94 454.23,77.71 455.10,77.49 455.98,77.26 456.85,77.04 457.72,76.83 458.59,76.62 459.47,76.41 460.34,76.21 461.21,76.01 462.08,75.82 462.96,75.63 463.83,75.44 464.70,75.25 465.57,75.07 466.45,74.90 467.32,74.72 468.19,74.56 469.06,74.39 469.94,74.23 470.81,74.07 471.68,73.91 472.55,73.75 473.43,73.60 474.30,73.46" fill="none" stroke="#e486ec" stroke-width="1.1"  style="mix-blend-mode:multiply"/>
<polyline points="38.90,243.07 39.77,243.07 40.65,243.07 41.52,243.07 42.39,243.07 43.26,243.07 44.14,243.07 45.01,243.07 45.88,243.07 46.75,243.07 47.63,243.07 48.50,243.07 49.37,243.07 50.24,243.07 51.12,243.07 51.99,243.07 52.86,243.07 53.73,243.07 54.61,243.07 55.48,243.07 56.35,243.07 57.22,243.07 58.10,243.07 58.97,243.07 59.84,243.07 60.71,243.07 61.59,243.07 62.46,243.07 63.33,243.07 64.20,243.07 65.08,243.07 65.95,243.07 66.82,243.07 67.69,243.07 68.57,243.07 69.44,243.07 70.31,243.07 71.18,243.07 72.06,243.07 72.93,243.07 73.80,243.07 74.67,243.07 75.55,243.07 76.42,243.07 77.29,243.07 78.16,243.07 79.04,243.07 79.91,243.07 80.78,243.07 81.65,243.07 82.53,243.07 83.40,243.07 84.27,243.07 85.14,243.07 86.02,243.07 86.89,243.07 87.76,243.07 88.64,243.07 89.51,243.07 90.38,243.07 91.25,243.07 92.13,243.07 93.00,243.07 93.87,243.07 94.74,243.07 95.62,243.07 96.49,243.07 97.36,243.07 98.23,243.07 99.11,243.07 99.98,243.07 100.85,243.07 101.72,243.07 102.60,243.07 103.47,243.07 104.34,243.07 105.21,243.07 106.09,243.07 106.96,243.07 107.83,243.07 108.70,243.07 109.58,243.07 110.45,243.07 111.32,243.07 112.19,243.07 113.07,243.07 113.94,243.07 114.81,243.07 115.68,243.07 116.56,243.07 117.43,243.07 118.30,243.07 119.17,243.07 120.05,243.07 120.92,243.07 121.79,243.07 122.66,243.07 123.54,243.07 124.41,243.07 125.28,243.07 126.15,243.07 127.03,243.07 127.90,243.07 128.77,243.07 129.64,243.07 130.52,243.07 131.39,243.07 132.26,243.07 133.13,243.07 134.01,243.07 134.88,243.07 135.75,243.07 136.63,243.07 137.50,243.07 138.37,243.07 139.24,243.07 140.12,243.07 140.99,243.07 141.86,243.07 142.73,243.07 143.61,243.07 144.48,243.07 145.35,243.07 146.22,243.07 147.10,243.07 147.97,243.07 148.84,243.07 149.71,243.07 150.59,243.07 151.46,243.07 152.33,243.07 153.20,243.07 154.08,243.07 154.95,243.07 155.82,243.07 156.69,243.07 157.57,243.07 158.44,243.07 159.31,243.07 160.18,243.07 161.06,243.06 161.93,243.06 162.80,243.06 163.67,243.06 164.55,243.06 165.42,243.06 166.29,243.06 167.16,243.06 168.04,243.06 168.91,243.06 169.78,243.06 170.65,243.06 171.53,243.06 172.40,243.06 173.27,243.06 174.14,243.06 175.02,243.06 175.89,243.06 176.76,243.06 177.63,243.06 178.51,243.06 179.38,243.06 180.25,243.06 181.12,243.06 182.00,243.06 182.87,243.06 183.74,243.06 184.62,243.06 185.49,243.06 186.36,243.06 187.23,243.06 188.11,243.06 188.98,243.06 189.85,243.05 190.72,243.05 191.60,243.05 192.47,243.05 193.34,243.05 194.21,243.05 195.09,243.05 195.96,243.05 196.83,243.05 197.70,243.05 198.58,243.05 199.45,243.05 200.32,243.05 201.19,243.04 202.07,243.04 202.94,243.04 203.81,243.04 204.68,243.04 205.56,243.04 206.43,243.04 207.30,243.03 208.17,243.03 209.05,243.03 209.92,243.03 210.79,243.03 211.66,243.03 212.54,243.02 213.41,243.02 214.28,243.02 215.15,243.02 216.03,243.01 216.90,243.01 217.77,243.01 218.64,243.01 219.52,243.00 220.39,243.00 221.26,243.00 222.13,242.99 223.01,242.99 223.88,242.99 224.75,242.98 225.62,242.98 226.50,242.97 227.37,242.97 228.24,242.96 229.11,242.96 229.99,242.95 230.86,242.95 231.73,242.94 232.61,242.94 233.48,242.93 234.35,242.92 235.22,242.91 236.10,242.91 236.97,242.90 237.84,242.89 238.71,242.88 239.59,242.87 240.46,242.86 241.33,242.85 242.20,242.84 243.08,242.83 243.95,242.82 244.82,242.81 245.69,242.80 246.57,242.78 247.44,242.77 248.31,242.75 249.18,242.74 250.06,242.72 250.93,242.71 251.80,242.69 252.67,242.67 253.55,242.65 254.42,242.63 255.29,242.61 256.16,242.59 257.04,242.56 257.91,242.54 258.78,242.51 259.65,242.49 260.53,242.46 261.40,242.43 262.27,242.40 263.14,242.37 264.02,242.33 264.89,242.30 265.76,242.26 266.63,242.22 267.51,242.18 268.38,242.14 269.25,242.09 270.12,242.04 271.00,241.99 271.87,241.94 272.74,241.89 273.61,241.83 274.49,241.77 275.36,241.71 276.23,241.64 277.10,241.58 277.98,241.50 278.85,241.43 279.72,241.35 280.59,241.27 281.47,241.18 282.34,241.09 283.21,241.00 284.09,240.90 284.96,240.80 285.83,240.69 286.70,240.58 287.58,240.46 288.45,240.34 289.32,240.21 290.19,240.08 291.07,239.94 291.94,239.79 292.81,239.64 293.68,239.48 294.56,239.31 295.43,239.14 296.30,238.96 297.17,238.77 298.05,238.57 298.92,238.36 299.79,238.15 300.66,237.92 301.54,237.69 302.41,237.45 303.28,237.20 304.15,236.93 305.03,236.66 305.90,236.37 306.77,236.08 307.64,235.77 308.52,235.45 309.39,235.11 310.26,234.77 311.13,234.41 312.01,234.03 312.88,233.64 313.75,233.24 314.62,232.83 315.50,232.39 316.37,231.95 317.24,231.48 318.11,231.00 318.99,230.51 319.86,230.00 320.73,229.47 321.60,228.92 322.48,228.35 323.35,227.77 324.22,227.17 325.09,226.55 325.97,225.92 326.84,225.26 327.71,224.59 328.58,223.90 329.46,223.19 330.33,222.46 331.20,221.71 332.08,220.94 332.95,220.16 333.82,219.36 334.69,218.54 335.57,217.70 336.44,216.84 337.31,215.97 338.18,215.08 339.06,214.18 339.93,213.26 340.80,212.32 341.67,211.37 342.55,210.40 343.42,209.43 344.29,208.43 345.16,207.43 346.04,206.42 346.91,205.39 347.78,204.36 348.65,203.32 349.53,202.27 350.40,201.22 351.27,200.15 352.14,199.09 353.02,198.02 353.89,196.95 354.76,195.87 355.63,194.80 356.51,193.72 357.38,192.65 358.25,191.58 359.12,190.51 360.00,189.45 360.87,188.39 361.74,187.34 362.61,186.30 363.49,185.26 364.36,184.24 365.23,183.22 366.10,182.21 366.98,181.22 367.85,180.24 368.72,179.27 369.59,178.31 370.47,177.37 371.34,176.44 372.21,175.52 373.08,174.62 373.96,173.74 374.83,172.88 375.70,172.03 376.57,171.19 377.45,170.38 378.32,169.58 379.19,168.80 380.07,168.03 380.94,167.29 381.81,166.56 382.68,165.85 383.56,165.15 384.43,164.48 385.30,163.82 386.17,163.18 387.05,162.55 387.92,161.95 388.79,161.36 389.66,160.78 390.54,160.23 391.41,159.69 392.28,159.16 393.15,158.65 394.03,158.16 394.90,157.68 395.77,157.22 396.64,156.77 397.52,156.34 398.39,155.92 399.26,155.51 400.13,155.12 401.01,154.74 401.88,154.38 402.75,154.02 403.62,153.68 404.50,153.35 405.37,153.03 406.24,152.72 407.11,152.43 407.99,152.14 408.86,151.87 409.73,151.60 410.60,151.34 411.48,151.10 412.35,150.86 413.22,150.63 414.09,150.41 414.97,150.20 415.84,149.99 416.71,149.79 417.58,149.60 418.46,149.42 419.33,149.25 420.20,149.08 421.07,148.92 421.95,148.76 422.82,148.61 423.69,148.46 424.56,148.33 425.44,148.19 426.31,148.06 427.18,147.94 428.06,147.82 428.93,147.71 429.80,147.60 430.67,147.49 431.55,147.39 432.42,147.30 433.29,147.20 434.16,147.11 435.04,147.03 435.91,146.94 436.78,146.87 437.65,146.79 438.53,146.72 439.40,146.65 440.27,146.58 441.14,146.51 442.02,146.45 442.89,146.39 443.76,146.34 444.63,146.28 445.51,146.23 446.38,146.18 447.25,146.13 448.12,146.08 449.00,146.04 449.87,145.99 450.74,145.95 451.61,145.91 452.49,145.88 453.36,145.84 454.23,145.81 455.10,145.77 455.98,145.74 456.85,145.71 457.72,145.68 458.59,145.65 459.47,145.62 460.34,145.60 461.21,145.57 462.08,145.55 462.96,145.53 463.83,145.50 464.70,145.48 465.57,145.46 466.45,145.44 467.32,145.43 468.19,145.41 469.06,145.39 469.94,145.37 470.81,145.36 471.68,145.34 472.55,145.33 473.43,145.31 474.30,145.30" fill="none" stroke="#c69ae4" stroke-width="1.1"  style="mix-blend-mode:multiply"/>
<rect x="37.35" y="241.45" width="3.1" height="3.1" fill="#fff" stroke="#f04040" stroke-width="0.85"/>
<rect x="146.20" y="241.45" width="3.1" height="3.1" fill="#fff" stroke="#f04040" stroke-width="0.85"/>
<rect x="255.05" y="240.25" width="3.1" height="3.1" fill="#fff" stroke="#f04040" stroke-width="0.85"/>
<rect x="331.13" y="211.45" width="3.1" height="3.1" fill="#fff" stroke="#f04040" stroke-width="0.85"/>
<rect x="363.90" y="174.35" width="3.1" height="3.1" fill="#fff" stroke="#f04040" stroke-width="0.85"/>
<rect x="383.07" y="156.75" width="3.1" height="3.1" fill="#fff" stroke="#f04040" stroke-width="0.85"/>
<rect x="396.67" y="149.85" width="3.1" height="3.1" fill="#fff" stroke="#f04040" stroke-width="0.85"/>
<rect x="415.83" y="143.55" width="3.1" height="3.1" fill="#fff" stroke="#f04040" stroke-width="0.85"/>
<rect x="37.05" y="241.15" width="3.7" height="3.7" fill="#007800"/>
<rect x="145.90" y="241.15" width="3.7" height="3.7" fill="#007800"/>
<rect x="254.75" y="229.45" width="3.7" height="3.7" fill="#007800"/>
<rect x="330.83" y="160.15" width="3.7" height="3.7" fill="#007800"/>
<rect x="363.60" y="123.85" width="3.7" height="3.7" fill="#007800"/>
<rect x="382.77" y="101.55" width="3.7" height="3.7" fill="#007800"/>
<rect x="396.37" y="93.05" width="3.7" height="3.7" fill="#007800"/>
<rect x="415.53" y="86.45" width="3.7" height="3.7" fill="#007800"/>
<circle cx="38.90" cy="241.00" r="1.9" fill="#a00000"/>
<circle cx="147.75" cy="240.60" r="1.9" fill="#a00000"/>
<circle cx="256.60" cy="234.00" r="1.9" fill="#a00000"/>
<circle cx="332.68" cy="116.50" r="1.9" fill="#a00000"/>
<circle cx="365.45" cy="59.20" r="1.9" fill="#a00000"/>
<circle cx="384.62" cy="48.20" r="1.9" fill="#a00000"/>
<circle cx="398.22" cy="45.10" r="1.9" fill="#a00000"/>
<circle cx="417.38" cy="42.40" r="1.9" fill="#a00000"/>
<polygon points="38.90,241.40 40.80,244.90 37.00,244.90" fill="#0000c8"/>
<polygon points="147.75,241.30 149.65,244.80 145.85,244.80" fill="#0000c8"/>
<polygon points="256.60,237.30 258.50,240.80 254.70,240.80" fill="#0000c8"/>
<polygon points="332.68,123.20 334.58,126.70 330.78,126.70" fill="#0000c8"/>
<polygon points="365.45,57.20 367.35,60.70 363.55,60.70" fill="#0000c8"/>
<polygon points="384.62,40.40 386.52,43.90 382.72,43.90" fill="#0000c8"/>
<polygon points="398.22,35.90 400.12,39.40 396.32,39.40" fill="#0000c8"/>
<polygon points="417.38,33.30 419.28,36.80 415.48,36.80" fill="#0000c8"/>
<polygon points="38.90,241.10 40.60,244.40 37.20,244.40" fill="#e070e8" fill-opacity="0.55" stroke="#e070e8" stroke-width="0.6"/>
<polygon points="147.75,241.10 149.45,244.40 146.05,244.40" fill="#e070e8" fill-opacity="0.55" stroke="#e070e8" stroke-width="0.6"/>
<polygon points="256.60,228.90 258.30,232.20 254.90,232.20" fill="#e070e8" fill-opacity="0.55" stroke="#e070e8" stroke-width="0.6"/>
<polygon points="332.68,170.40 334.38,173.70 330.98,173.70" fill="#e070e8" fill-opacity="0.55" stroke="#e070e8" stroke-width="0.6"/>
<polygon points="365.45,137.60 367.15,140.90 363.75,140.90" fill="#e070e8" fill-opacity="0.55" stroke="#e070e8" stroke-width="0.6"/>
<polygon points="384.62,112.70 386.32,116.00 382.92,116.00" fill="#e070e8" fill-opacity="0.55" stroke="#e070e8" stroke-width="0.6"/>
<polygon points="398.22,101.70 399.92,105.00 396.52,105.00" fill="#e070e8" fill-opacity="0.55" stroke="#e070e8" stroke-width="0.6"/>
<polygon points="417.38,90.80 419.08,94.10 415.68,94.10" fill="#e070e8" fill-opacity="0.55" stroke="#e070e8" stroke-width="0.6"/>
<polygon points="38.90,241.70 40.60,243.40 38.90,245.10 37.20,243.40" fill="#b070d8" fill-opacity="0.35" stroke="#b070d8" stroke-width="0.8"/>
<polygon points="147.75,241.70 149.45,243.40 147.75,245.10 146.05,243.40" fill="#b070d8" fill-opacity="0.35" stroke="#b070d8" stroke-width="0.8"/>
<polygon points="256.60,240.50 258.30,242.20 256.60,243.90 254.90,242.20" fill="#b070d8" fill-opacity="0.35" stroke="#b070d8" stroke-width="0.8"/>
<polygon points="332.68,218.70 334.38,220.40 332.68,222.10 330.98,220.40" fill="#b070d8" fill-opacity="0.35" stroke="#b070d8" stroke-width="0.8"/>
<polygon points="365.45,181.10 367.15,182.80 365.45,184.50 363.75,182.80" fill="#b070d8" fill-opacity="0.35" stroke="#b070d8" stroke-width="0.8"/>
<polygon points="384.62,162.80 386.32,164.50 384.62,166.20 382.92,164.50" fill="#b070d8" fill-opacity="0.35" stroke="#b070d8" stroke-width="0.8"/>
<polygon points="398.22,154.40 399.92,156.10 398.22,157.80 396.52,156.10" fill="#b070d8" fill-opacity="0.35" stroke="#b070d8" stroke-width="0.8"/>
<polygon points="417.38,147.90 419.08,149.60 417.38,151.30 415.68,149.60" fill="#b070d8" fill-opacity="0.35" stroke="#b070d8" stroke-width="0.8"/>
<text x="37.60" y="246.30" text-anchor="end" class="tk">0</text>
<text x="37.60" y="216.99" text-anchor="end" class="tk">0.4</text>
<text x="37.60" y="187.68" text-anchor="end" class="tk">0.8</text>
<text x="37.60" y="158.36" text-anchor="end" class="tk">1.2</text>
<text x="37.60" y="129.05" text-anchor="end" class="tk">1.6</text>
<text x="37.60" y="99.74" text-anchor="end" class="tk">2</text>
<text x="37.60" y="70.42" text-anchor="end" class="tk">2.4</text>
<text x="37.60" y="41.11" text-anchor="end" class="tk">2.8</text>
<text x="37.60" y="11.80" text-anchor="end" class="tk">3.2</text>
<text x="39.20" y="251.60" text-anchor="middle" class="tk">0.01</text>
<text x="147.75" y="251.60" text-anchor="middle" class="tk">0.1</text>
<text x="256.90" y="251.60" text-anchor="middle" class="tk">1</text>
<text x="365.95" y="251.60" text-anchor="middle" class="tk">10</text>
<text x="471.70" y="251.60" text-anchor="middle" class="tk">100</text>
<circle cx="157" cy="72.50" r="3.20" fill="#a00000"/>
<text x="164.4" y="75.30" class="lgn" style="font-size:8.5px" textLength="35.6" lengthAdjust="spacingAndGlyphs">ZEBOV GP</text>
<text y="76.20" class="ec" style="font-size:9.9px"><tspan x="208.5" textLength="21.6" lengthAdjust="spacingAndGlyphs">EC50</tspan> <tspan x="232.3" class="eq" textLength="4.1" lengthAdjust="spacingAndGlyphs">=</tspan> <tspan x="238.9" textLength="12.6" lengthAdjust="spacingAndGlyphs">4.0</tspan></text>
<rect x="153.60" y="84.66" width="6.80" height="6.80" fill="#007a00"/>
<text x="164.4" y="90.86" class="lgn" style="font-size:8.5px" textLength="31.5" lengthAdjust="spacingAndGlyphs">SUDV GP</text>
<text y="91.76" class="ec" style="font-size:9.9px"><tspan x="208.5" textLength="21.6" lengthAdjust="spacingAndGlyphs">EC50</tspan> <tspan x="232.3" class="eq" textLength="4.1" lengthAdjust="spacingAndGlyphs">=</tspan> <tspan x="238.9" textLength="12.6" lengthAdjust="spacingAndGlyphs">5.3</tspan></text>
<polygon points="157,100.02 160.60,106.42 153.40,106.42" fill="#0000c0"/>
<text x="164.4" y="106.42" class="lgn" style="font-size:8.5px" textLength="33.7" lengthAdjust="spacingAndGlyphs">MARV GP</text>
<text y="107.32" class="ec" style="font-size:9.9px"><tspan x="208.5" textLength="21.6" lengthAdjust="spacingAndGlyphs">EC50</tspan> <tspan x="232.3" class="eq" textLength="4.1" lengthAdjust="spacingAndGlyphs">=</tspan> <tspan x="238.9" textLength="12.6" lengthAdjust="spacingAndGlyphs">4.5</tspan></text>
<polygon points="157,115.88 160.30,119.18 157,122.48 153.70,119.18" fill="#fff" stroke="#c09ae0" stroke-width="1"/>
<text x="164.4" y="121.98" class="lgn" style="font-size:8.5px" textLength="30.8" lengthAdjust="spacingAndGlyphs">BDBV GP</text>
<text y="122.88" class="ec" style="font-size:9.9px"><tspan x="208.5" textLength="21.6" lengthAdjust="spacingAndGlyphs">EC50</tspan> <tspan x="232.3" class="eq" textLength="4.1" lengthAdjust="spacingAndGlyphs">=</tspan> <tspan x="238.9" textLength="12.6" lengthAdjust="spacingAndGlyphs">8.2</tspan></text>
<rect x="154.00" y="131.74" width="6.00" height="6.00" fill="#fff" stroke="#f04848" stroke-width="1.2"/>
<text x="164.4" y="137.54" class="lgn" style="font-size:8.5px" textLength="29.7" lengthAdjust="spacingAndGlyphs">RESV GP</text>
<text y="138.44" class="ec" style="font-size:9.9px"><tspan x="208.5" textLength="21.6" lengthAdjust="spacingAndGlyphs">EC50</tspan> <tspan x="232.3" class="eq" textLength="4.1" lengthAdjust="spacingAndGlyphs">=</tspan> <tspan x="238.9" textLength="12.6" lengthAdjust="spacingAndGlyphs">7.4</tspan></text>
<polygon points="157,147.60 159.60,152.70 154.40,152.70" fill="#fff" stroke="#bba27e" stroke-width="1.0"/>
<text x="164.4" y="153.10" class="lgn" style="font-size:8.5px" textLength="28.8" lengthAdjust="spacingAndGlyphs">TAFV GP</text>
<text y="154.00" class="ec" style="font-size:9.9px"><tspan x="208.5" textLength="21.6" lengthAdjust="spacingAndGlyphs">EC50</tspan> <tspan x="232.3" class="eq" textLength="4.1" lengthAdjust="spacingAndGlyphs">=</tspan> <tspan x="238.9" textLength="12.6" lengthAdjust="spacingAndGlyphs">7.0</tspan></text>
<line x1="70.60" y1="284.0" x2="70.60" y2="519.8" stroke="#efefef" stroke-width="1"/>
<line x1="89.85" y1="284.0" x2="89.85" y2="519.8" stroke="#efefef" stroke-width="1"/>
<line x1="103.51" y1="284.0" x2="103.51" y2="519.8" stroke="#efefef" stroke-width="1"/>
<line x1="114.10" y1="284.0" x2="114.10" y2="519.8" stroke="#efefef" stroke-width="1"/>
<line x1="122.75" y1="284.0" x2="122.75" y2="519.8" stroke="#efefef" stroke-width="1"/>
<line x1="130.07" y1="284.0" x2="130.07" y2="519.8" stroke="#efefef" stroke-width="1"/>
<line x1="136.41" y1="284.0" x2="136.41" y2="519.8" stroke="#efefef" stroke-width="1"/>
<line x1="142.00" y1="284.0" x2="142.00" y2="519.8" stroke="#efefef" stroke-width="1"/>
<line x1="147.00" y1="284.0" x2="147.00" y2="519.8" stroke="#efefef" stroke-width="1"/>
<line x1="179.90" y1="284.0" x2="179.90" y2="519.8" stroke="#efefef" stroke-width="1"/>
<line x1="199.15" y1="284.0" x2="199.15" y2="519.8" stroke="#efefef" stroke-width="1"/>
<line x1="212.81" y1="284.0" x2="212.81" y2="519.8" stroke="#efefef" stroke-width="1"/>
<line x1="223.40" y1="284.0" x2="223.40" y2="519.8" stroke="#efefef" stroke-width="1"/>
<line x1="232.05" y1="284.0" x2="232.05" y2="519.8" stroke="#efefef" stroke-width="1"/>
<line x1="239.37" y1="284.0" x2="239.37" y2="519.8" stroke="#efefef" stroke-width="1"/>
<line x1="245.71" y1="284.0" x2="245.71" y2="519.8" stroke="#efefef" stroke-width="1"/>
<line x1="251.30" y1="284.0" x2="251.30" y2="519.8" stroke="#efefef" stroke-width="1"/>
<line x1="256.30" y1="284.0" x2="256.30" y2="519.8" stroke="#efefef" stroke-width="1"/>
<line x1="289.20" y1="284.0" x2="289.20" y2="519.8" stroke="#efefef" stroke-width="1"/>
<line x1="308.45" y1="284.0" x2="308.45" y2="519.8" stroke="#efefef" stroke-width="1"/>
<line x1="322.11" y1="284.0" x2="322.11" y2="519.8" stroke="#efefef" stroke-width="1"/>
<line x1="332.70" y1="284.0" x2="332.70" y2="519.8" stroke="#efefef" stroke-width="1"/>
<line x1="341.35" y1="284.0" x2="341.35" y2="519.8" stroke="#efefef" stroke-width="1"/>
<line x1="348.67" y1="284.0" x2="348.67" y2="519.8" stroke="#efefef" stroke-width="1"/>
<line x1="355.01" y1="284.0" x2="355.01" y2="519.8" stroke="#efefef" stroke-width="1"/>
<line x1="360.60" y1="284.0" x2="360.60" y2="519.8" stroke="#efefef" stroke-width="1"/>
<line x1="365.60" y1="284.0" x2="365.60" y2="519.8" stroke="#efefef" stroke-width="1"/>
<line x1="398.50" y1="284.0" x2="398.50" y2="519.8" stroke="#efefef" stroke-width="1"/>
<line x1="417.75" y1="284.0" x2="417.75" y2="519.8" stroke="#efefef" stroke-width="1"/>
<line x1="431.41" y1="284.0" x2="431.41" y2="519.8" stroke="#efefef" stroke-width="1"/>
<line x1="442.00" y1="284.0" x2="442.00" y2="519.8" stroke="#efefef" stroke-width="1"/>
<line x1="450.65" y1="284.0" x2="450.65" y2="519.8" stroke="#efefef" stroke-width="1"/>
<line x1="457.97" y1="284.0" x2="457.97" y2="519.8" stroke="#efefef" stroke-width="1"/>
<line x1="464.31" y1="284.0" x2="464.31" y2="519.8" stroke="#efefef" stroke-width="1"/>
<line x1="469.90" y1="284.0" x2="469.90" y2="519.8" stroke="#efefef" stroke-width="1"/>
<line x1="37.70" y1="490.32" x2="474.90" y2="490.32" stroke="#efefef" stroke-width="1"/>
<line x1="37.70" y1="460.85" x2="474.90" y2="460.85" stroke="#efefef" stroke-width="1"/>
<line x1="37.70" y1="431.38" x2="474.90" y2="431.38" stroke="#efefef" stroke-width="1"/>
<line x1="37.70" y1="401.90" x2="474.90" y2="401.90" stroke="#efefef" stroke-width="1"/>
<line x1="37.70" y1="372.42" x2="474.90" y2="372.42" stroke="#efefef" stroke-width="1"/>
<line x1="37.70" y1="342.95" x2="474.90" y2="342.95" stroke="#efefef" stroke-width="1"/>
<line x1="37.70" y1="313.48" x2="474.90" y2="313.48" stroke="#efefef" stroke-width="1"/>
<rect x="149" y="343.5" width="105.5" height="86" fill="#fff"/>
<rect x="38.0" y="283.9" width="437.00" height="235.90" fill="none" stroke="#aaaaaa" stroke-width="1.4"/>
<polyline points="37.70,518.18 38.58,518.18 39.45,518.18 40.33,518.18 41.20,518.18 42.08,518.18 42.96,518.18 43.83,518.18 44.71,518.18 45.59,518.18 46.46,518.18 47.34,518.18 48.21,518.18 49.09,518.18 49.97,518.18 50.84,518.18 51.72,518.18 52.59,518.18 53.47,518.18 54.35,518.18 55.22,518.18 56.10,518.18 56.98,518.17 57.85,518.17 58.73,518.17 59.60,518.17 60.48,518.17 61.36,518.17 62.23,518.17 63.11,518.17 63.98,518.17 64.86,518.17 65.74,518.17 66.61,518.17 67.49,518.17 68.37,518.17 69.24,518.17 70.12,518.17 70.99,518.17 71.87,518.16 72.75,518.16 73.62,518.16 74.50,518.16 75.37,518.16 76.25,518.16 77.13,518.16 78.00,518.16 78.88,518.16 79.76,518.16 80.63,518.16 81.51,518.16 82.38,518.15 83.26,518.15 84.14,518.15 85.01,518.15 85.89,518.15 86.76,518.15 87.64,518.15 88.52,518.15 89.39,518.15 90.27,518.14 91.15,518.14 92.02,518.14 92.90,518.14 93.77,518.14 94.65,518.14 95.53,518.14 96.40,518.13 97.28,518.13 98.15,518.13 99.03,518.13 99.91,518.13 100.78,518.13 101.66,518.12 102.54,518.12 103.41,518.12 104.29,518.12 105.16,518.12 106.04,518.11 106.92,518.11 107.79,518.11 108.67,518.11 109.54,518.11 110.42,518.10 111.30,518.10 112.17,518.10 113.05,518.10 113.93,518.09 114.80,518.09 115.68,518.09 116.55,518.08 117.43,518.08 118.31,518.08 119.18,518.08 120.06,518.07 120.93,518.07 121.81,518.07 122.69,518.06 123.56,518.06 124.44,518.06 125.32,518.05 126.19,518.05 127.07,518.04 127.94,518.04 128.82,518.04 129.70,518.03 130.57,518.03 131.45,518.02 132.32,518.02 133.20,518.01 134.08,518.01 134.95,518.00 135.83,518.00 136.71,517.99 137.58,517.99 138.46,517.98 139.33,517.98 140.21,517.97 141.09,517.96 141.96,517.96 142.84,517.95 143.71,517.95 144.59,517.94 145.47,517.93 146.34,517.92 147.22,517.92 148.10,517.91 148.97,517.90 149.85,517.89 150.72,517.89 151.60,517.88 152.48,517.87 153.35,517.86 154.23,517.85 155.10,517.84 155.98,517.83 156.86,517.82 157.73,517.81 158.61,517.80 159.49,517.79 160.36,517.78 161.24,517.77 162.11,517.76 162.99,517.75 163.87,517.74 164.74,517.72 165.62,517.71 166.49,517.70 167.37,517.68 168.25,517.67 169.12,517.66 170.00,517.64 170.88,517.63 171.75,517.61 172.63,517.60 173.50,517.58 174.38,517.56 175.26,517.55 176.13,517.53 177.01,517.51 177.88,517.49 178.76,517.47 179.64,517.45 180.51,517.43 181.39,517.41 182.27,517.39 183.14,517.37 184.02,517.35 184.89,517.33 185.77,517.30 186.65,517.28 187.52,517.25 188.40,517.23 189.27,517.20 190.15,517.18 191.03,517.15 191.90,517.12 192.78,517.09 193.66,517.06 194.53,517.03 195.41,517.00 196.28,516.97 197.16,516.93 198.04,516.90 198.91,516.87 199.79,516.83 200.66,516.79 201.54,516.76 202.42,516.72 203.29,516.68 204.17,516.64 205.05,516.59 205.92,516.55 206.80,516.51 207.67,516.46 208.55,516.42 209.43,516.37 210.30,516.32 211.18,516.27 212.05,516.22 212.93,516.16 213.81,516.11 214.68,516.05 215.56,516.00 216.44,515.94 217.31,515.88 218.19,515.81 219.06,515.75 219.94,515.68 220.82,515.62 221.69,515.55 222.57,515.48 223.44,515.41 224.32,515.33 225.20,515.25 226.07,515.18 226.95,515.10 227.83,515.01 228.70,514.93 229.58,514.84 230.45,514.75 231.33,514.66 232.21,514.57 233.08,514.47 233.96,514.37 234.83,514.27 235.71,514.17 236.59,514.06 237.46,513.95 238.34,513.84 239.22,513.72 240.09,513.60 240.97,513.48 241.84,513.36 242.72,513.23 243.60,513.10 244.47,512.96 245.35,512.83 246.22,512.69 247.10,512.54 247.98,512.39 248.85,512.24 249.73,512.08 250.61,511.92 251.48,511.76 252.36,511.59 253.23,511.42 254.11,511.24 254.99,511.06 255.86,510.88 256.74,510.69 257.61,510.49 258.49,510.29 259.37,510.09 260.24,509.88 261.12,509.66 261.99,509.44 262.87,509.22 263.75,508.99 264.62,508.75 265.50,508.51 266.38,508.26 267.25,508.01 268.13,507.75 269.00,507.48 269.88,507.21 270.76,506.93 271.63,506.64 272.51,506.35 273.38,506.05 274.26,505.74 275.14,505.43 276.01,505.11 276.89,504.78 277.77,504.45 278.64,504.11 279.52,503.76 280.39,503.40 281.27,503.03 282.15,502.66 283.02,502.27 283.90,501.88 284.77,501.48 285.65,501.07 286.53,500.66 287.40,500.23 288.28,499.79 289.16,499.35 290.03,498.90 290.91,498.43 291.78,497.96 292.66,497.48 293.54,496.98 294.41,496.48 295.29,495.97 296.16,495.45 297.04,494.91 297.92,494.37 298.79,493.82 299.67,493.25 300.55,492.68 301.42,492.09 302.30,491.49 303.17,490.89 304.05,490.27 304.93,489.64 305.80,489.00 306.68,488.34 307.55,487.68 308.43,487.00 309.31,486.32 310.18,485.62 311.06,484.91 311.94,484.19 312.81,483.46 313.69,482.71 314.56,481.96 315.44,481.19 316.32,480.41 317.19,479.62 318.07,478.82 318.94,478.01 319.82,477.18 320.70,476.35 321.57,475.50 322.45,474.65 323.33,473.78 324.20,472.90 325.08,472.01 325.95,471.11 326.83,470.20 327.71,469.28 328.58,468.35 329.46,467.41 330.33,466.46 331.21,465.50 332.09,464.53 332.96,463.55 333.84,462.57 334.72,461.57 335.59,460.57 336.47,459.56 337.34,458.54 338.22,457.51 339.10,456.48 339.97,455.44 340.85,454.40 341.72,453.34 342.60,452.29 343.48,451.22 344.35,450.15 345.23,449.08 346.11,448.00 346.98,446.92 347.86,445.84 348.73,444.75 349.61,443.66 350.49,442.56 351.36,441.47 352.24,440.37 353.11,439.27 353.99,438.17 354.87,437.07 355.74,435.97 356.62,434.88 357.50,433.78 358.37,432.68 359.25,431.59 360.12,430.49 361.00,429.40 361.88,428.31 362.75,427.23 363.63,426.15 364.50,425.07 365.38,424.00 366.26,422.93 367.13,421.87 368.01,420.81 368.89,419.76 369.76,418.72 370.64,417.68 371.51,416.65 372.39,415.63 373.27,414.61 374.14,413.60 375.02,412.60 375.89,411.61 376.77,410.62 377.65,409.65 378.52,408.68 379.40,407.73 380.28,406.78 381.15,405.84 382.03,404.92 382.90,404.00 383.78,403.09 384.66,402.20 385.53,401.31 386.41,400.44 387.28,399.58 388.16,398.72 389.04,397.88 389.91,397.05 390.79,396.23 391.67,395.42 392.54,394.63 393.42,393.84 394.29,393.07 395.17,392.31 396.05,391.56 396.92,390.82 397.80,390.09 398.67,389.38 399.55,388.68 400.43,387.98 401.30,387.30 402.18,386.63 403.06,385.98 403.93,385.33 404.81,384.70 405.68,384.07 406.56,383.46 407.44,382.86 408.31,382.27 409.19,381.69 410.06,381.12 410.94,380.57 411.82,380.02 412.69,379.48 413.57,378.96 414.45,378.44 415.32,377.94 416.20,377.44 417.07,376.96 417.95,376.48 418.83,376.02 419.70,375.56 420.58,375.12 421.45,374.68 422.33,374.25 423.21,373.84 424.08,373.43 424.96,373.03 425.84,372.63 426.71,372.25 427.59,371.88 428.46,371.51 429.34,371.15 430.22,370.80 431.09,370.46 431.97,370.13 432.84,369.80 433.72,369.48 434.60,369.17 435.47,368.86 436.35,368.56 437.23,368.27 438.10,367.99 438.98,367.71 439.85,367.44 440.73,367.18 441.61,366.92 442.48,366.66 443.36,366.42 444.23,366.18 445.11,365.94 445.99,365.72 446.86,365.49 447.74,365.27 448.62,365.06 449.49,364.85 450.37,364.65 451.24,364.45 452.12,364.26 453.00,364.07 453.87,363.89 454.75,363.71 455.62,363.54 456.50,363.37 457.38,363.20 458.25,363.04 459.13,362.88 460.01,362.73 460.88,362.58 461.76,362.44 462.63,362.29 463.51,362.16 464.39,362.02 465.26,361.89 466.14,361.76 467.01,361.64 467.89,361.51 468.77,361.40 469.64,361.28 470.52,361.17 471.40,361.06 472.27,360.95 473.15,360.85 474.02,360.75 474.90,360.65" fill="none" stroke="#8ccc8c" stroke-width="1.1" />
<polyline points="37.70,518.37 38.58,518.37 39.45,518.37 40.33,518.37 41.20,518.37 42.08,518.37 42.96,518.37 43.83,518.37 44.71,518.37 45.59,518.37 46.46,518.37 47.34,518.37 48.21,518.37 49.09,518.37 49.97,518.37 50.84,518.37 51.72,518.37 52.59,518.37 53.47,518.37 54.35,518.37 55.22,518.37 56.10,518.37 56.98,518.37 57.85,518.37 58.73,518.37 59.60,518.37 60.48,518.37 61.36,518.37 62.23,518.37 63.11,518.37 63.98,518.37 64.86,518.37 65.74,518.37 66.61,518.37 67.49,518.37 68.37,518.37 69.24,518.37 70.12,518.37 70.99,518.37 71.87,518.37 72.75,518.37 73.62,518.37 74.50,518.37 75.37,518.37 76.25,518.37 77.13,518.37 78.00,518.37 78.88,518.37 79.76,518.37 80.63,518.37 81.51,518.37 82.38,518.37 83.26,518.37 84.14,518.37 85.01,518.37 85.89,518.37 86.76,518.37 87.64,518.37 88.52,518.37 89.39,518.37 90.27,518.37 91.15,518.37 92.02,518.37 92.90,518.37 93.77,518.37 94.65,518.37 95.53,518.37 96.40,518.37 97.28,518.37 98.15,518.37 99.03,518.37 99.91,518.37 100.78,518.37 101.66,518.37 102.54,518.37 103.41,518.37 104.29,518.37 105.16,518.37 106.04,518.37 106.92,518.37 107.79,518.37 108.67,518.37 109.54,518.37 110.42,518.37 111.30,518.37 112.17,518.37 113.05,518.37 113.93,518.37 114.80,518.37 115.68,518.37 116.55,518.37 117.43,518.37 118.31,518.37 119.18,518.37 120.06,518.37 120.93,518.37 121.81,518.37 122.69,518.37 123.56,518.37 124.44,518.37 125.32,518.37 126.19,518.37 127.07,518.37 127.94,518.37 128.82,518.37 129.70,518.37 130.57,518.37 131.45,518.37 132.32,518.37 133.20,518.37 134.08,518.37 134.95,518.37 135.83,518.37 136.71,518.37 137.58,518.37 138.46,518.37 139.33,518.37 140.21,518.37 141.09,518.37 141.96,518.37 142.84,518.37 143.71,518.37 144.59,518.37 145.47,518.37 146.34,518.37 147.22,518.37 148.10,518.37 148.97,518.37 149.85,518.37 150.72,518.37 151.60,518.37 152.48,518.37 153.35,518.37 154.23,518.37 155.10,518.37 155.98,518.37 156.86,518.37 157.73,518.37 158.61,518.37 159.49,518.37 160.36,518.37 161.24,518.37 162.11,518.37 162.99,518.37 163.87,518.37 164.74,518.37 165.62,518.37 166.49,518.37 167.37,518.36 168.25,518.36 169.12,518.36 170.00,518.36 170.88,518.36 171.75,518.36 172.63,518.36 173.50,518.36 174.38,518.36 175.26,518.36 176.13,518.36 177.01,518.36 177.88,518.36 178.76,518.36 179.64,518.36 180.51,518.36 181.39,518.36 182.27,518.36 183.14,518.36 184.02,518.36 184.89,518.36 185.77,518.36 186.65,518.36 187.52,518.36 188.40,518.36 189.27,518.36 190.15,518.36 191.03,518.36 191.90,518.36 192.78,518.36 193.66,518.36 194.53,518.36 195.41,518.36 196.28,518.36 197.16,518.36 198.04,518.36 198.91,518.36 199.79,518.36 200.66,518.36 201.54,518.36 202.42,518.36 203.29,518.36 204.17,518.36 205.05,518.36 205.92,518.35 206.80,518.35 207.67,518.35 208.55,518.35 209.43,518.35 210.30,518.35 211.18,518.35 212.05,518.35 212.93,518.35 213.81,518.35 214.68,518.35 215.56,518.35 216.44,518.35 217.31,518.34 218.19,518.34 219.06,518.34 219.94,518.34 220.82,518.34 221.69,518.34 222.57,518.34 223.44,518.34 224.32,518.33 225.20,518.33 226.07,518.33 226.95,518.33 227.83,518.33 228.70,518.33 229.58,518.32 230.45,518.32 231.33,518.32 232.21,518.32 233.08,518.31 233.96,518.31 234.83,518.31 235.71,518.31 236.59,518.30 237.46,518.30 238.34,518.30 239.22,518.29 240.09,518.29 240.97,518.28 241.84,518.28 242.72,518.28 243.60,518.27 244.47,518.27 245.35,518.26 246.22,518.26 247.10,518.25 247.98,518.25 248.85,518.24 249.73,518.23 250.61,518.23 251.48,518.22 252.36,518.21 253.23,518.20 254.11,518.20 254.99,518.19 255.86,518.18 256.74,518.17 257.61,518.16 258.49,518.15 259.37,518.14 260.24,518.13 261.12,518.11 261.99,518.10 262.87,518.09 263.75,518.07 264.62,518.06 265.50,518.04 266.38,518.03 267.25,518.01 268.13,517.99 269.00,517.97 269.88,517.96 270.76,517.93 271.63,517.91 272.51,517.89 273.38,517.87 274.26,517.84 275.14,517.82 276.01,517.79 276.89,517.76 277.77,517.73 278.64,517.70 279.52,517.66 280.39,517.63 281.27,517.59 282.15,517.55 283.02,517.51 283.90,517.47 284.77,517.42 285.65,517.38 286.53,517.33 287.40,517.27 288.28,517.22 289.16,517.16 290.03,517.10 290.91,517.04 291.78,516.97 292.66,516.90 293.54,516.83 294.41,516.75 295.29,516.67 296.16,516.59 297.04,516.50 297.92,516.41 298.79,516.31 299.67,516.20 300.55,516.10 301.42,515.98 302.30,515.86 303.17,515.74 304.05,515.61 304.93,515.47 305.80,515.33 306.68,515.18 307.55,515.02 308.43,514.85 309.31,514.68 310.18,514.49 311.06,514.30 311.94,514.10 312.81,513.89 313.69,513.66 314.56,513.43 315.44,513.19 316.32,512.93 317.19,512.66 318.07,512.38 318.94,512.08 319.82,511.77 320.70,511.45 321.57,511.11 322.45,510.75 323.33,510.38 324.20,509.99 325.08,509.58 325.95,509.15 326.83,508.70 327.71,508.23 328.58,507.74 329.46,507.23 330.33,506.69 331.21,506.13 332.09,505.54 332.96,504.92 333.84,504.28 334.72,503.61 335.59,502.91 336.47,502.18 337.34,501.41 338.22,500.62 339.10,499.79 339.97,498.92 340.85,498.02 341.72,497.09 342.60,496.11 343.48,495.10 344.35,494.04 345.23,492.95 346.11,491.81 346.98,490.63 347.86,489.41 348.73,488.15 349.61,486.84 350.49,485.49 351.36,484.09 352.24,482.65 353.11,481.16 353.99,479.63 354.87,478.05 355.74,476.43 356.62,474.77 357.50,473.07 358.37,471.32 359.25,469.54 360.12,467.72 361.00,465.86 361.88,463.97 362.75,462.05 363.63,460.10 364.50,458.12 365.38,456.12 366.26,454.10 367.13,452.06 368.01,450.00 368.89,447.94 369.76,445.87 370.64,443.79 371.51,441.72 372.39,439.65 373.27,437.59 374.14,435.54 375.02,433.50 375.89,431.49 376.77,429.50 377.65,427.53 378.52,425.59 379.40,423.69 380.28,421.82 381.15,419.99 382.03,418.20 382.90,416.45 383.78,414.75 384.66,413.09 385.53,411.48 386.41,409.92 387.28,408.41 388.16,406.94 389.04,405.53 389.91,404.17 390.79,402.86 391.67,401.60 392.54,400.39 393.42,399.23 394.29,398.11 395.17,397.05 396.05,396.03 396.92,395.06 397.80,394.13 398.67,393.25 399.55,392.41 400.43,391.61 401.30,390.85 402.18,390.13 403.06,389.44 403.93,388.80 404.81,388.18 405.68,387.60 406.56,387.05 407.44,386.52 408.31,386.03 409.19,385.56 410.06,385.12 410.94,384.71 411.82,384.32 412.69,383.95 413.57,383.60 414.45,383.27 415.32,382.96 416.20,382.67 417.07,382.39 417.95,382.14 418.83,381.89 419.70,381.67 420.58,381.45 421.45,381.25 422.33,381.06 423.21,380.88 424.08,380.71 424.96,380.55 425.84,380.41 426.71,380.27 427.59,380.14 428.46,380.01 429.34,379.90 430.22,379.79 431.09,379.69 431.97,379.59 432.84,379.51 433.72,379.42 434.60,379.34 435.47,379.27 436.35,379.20 437.23,379.14 438.10,379.07 438.98,379.02 439.85,378.96 440.73,378.91 441.61,378.87 442.48,378.82 443.36,378.78 444.23,378.74 445.11,378.71 445.99,378.67 446.86,378.64 447.74,378.61 448.62,378.58 449.49,378.56 450.37,378.53 451.24,378.51 452.12,378.49 453.00,378.47 453.87,378.45 454.75,378.43 455.62,378.41 456.50,378.40 457.38,378.38 458.25,378.37 459.13,378.36 460.01,378.34 460.88,378.33 461.76,378.32 462.63,378.31 463.51,378.30 464.39,378.29 465.26,378.29 466.14,378.28 467.01,378.27 467.89,378.26 468.77,378.26 469.64,378.25 470.52,378.25 471.40,378.24 472.27,378.24 473.15,378.23 474.02,378.23 474.90,378.22" fill="none" stroke="#c69ae4" stroke-width="1.1" />
<polyline points="37.70,518.78 38.58,518.78 39.45,518.78 40.33,518.78 41.20,518.78 42.08,518.78 42.96,518.78 43.83,518.78 44.71,518.78 45.59,518.78 46.46,518.78 47.34,518.78 48.21,518.78 49.09,518.78 49.97,518.78 50.84,518.78 51.72,518.78 52.59,518.78 53.47,518.78 54.35,518.78 55.22,518.78 56.10,518.78 56.98,518.77 57.85,518.77 58.73,518.77 59.60,518.77 60.48,518.77 61.36,518.77 62.23,518.77 63.11,518.77 63.98,518.77 64.86,518.77 65.74,518.77 66.61,518.77 67.49,518.77 68.37,518.77 69.24,518.77 70.12,518.77 70.99,518.77 71.87,518.77 72.75,518.77 73.62,518.76 74.50,518.76 75.37,518.76 76.25,518.76 77.13,518.76 78.00,518.76 78.88,518.76 79.76,518.76 80.63,518.76 81.51,518.76 82.38,518.76 83.26,518.76 84.14,518.76 85.01,518.75 85.89,518.75 86.76,518.75 87.64,518.75 88.52,518.75 89.39,518.75 90.27,518.75 91.15,518.75 92.02,518.75 92.90,518.75 93.77,518.74 94.65,518.74 95.53,518.74 96.40,518.74 97.28,518.74 98.15,518.74 99.03,518.74 99.91,518.74 100.78,518.73 101.66,518.73 102.54,518.73 103.41,518.73 104.29,518.73 105.16,518.73 106.04,518.72 106.92,518.72 107.79,518.72 108.67,518.72 109.54,518.72 110.42,518.72 111.30,518.71 112.17,518.71 113.05,518.71 113.93,518.71 114.80,518.71 115.68,518.70 116.55,518.70 117.43,518.70 118.31,518.70 119.18,518.69 120.06,518.69 120.93,518.69 121.81,518.69 122.69,518.69 123.56,518.68 124.44,518.68 125.32,518.68 126.19,518.67 127.07,518.67 127.94,518.67 128.82,518.67 129.70,518.66 130.57,518.66 131.45,518.66 132.32,518.65 133.20,518.65 134.08,518.65 134.95,518.64 135.83,518.64 136.71,518.63 137.58,518.63 138.46,518.63 139.33,518.62 140.21,518.62 141.09,518.61 141.96,518.61 142.84,518.61 143.71,518.60 144.59,518.60 145.47,518.59 146.34,518.59 147.22,518.58 148.10,518.58 148.97,518.57 149.85,518.57 150.72,518.56 151.60,518.55 152.48,518.55 153.35,518.54 154.23,518.54 155.10,518.53 155.98,518.52 156.86,518.52 157.73,518.51 158.61,518.50 159.49,518.50 160.36,518.49 161.24,518.48 162.11,518.47 162.99,518.47 163.87,518.46 164.74,518.45 165.62,518.44 166.49,518.43 167.37,518.42 168.25,518.41 169.12,518.41 170.00,518.40 170.88,518.39 171.75,518.38 172.63,518.37 173.50,518.36 174.38,518.35 175.26,518.33 176.13,518.32 177.01,518.31 177.88,518.30 178.76,518.29 179.64,518.28 180.51,518.26 181.39,518.25 182.27,518.24 183.14,518.22 184.02,518.21 184.89,518.19 185.77,518.18 186.65,518.16 187.52,518.15 188.40,518.13 189.27,518.12 190.15,518.10 191.03,518.08 191.90,518.07 192.78,518.05 193.66,518.03 194.53,518.01 195.41,517.99 196.28,517.97 197.16,517.95 198.04,517.93 198.91,517.91 199.79,517.89 200.66,517.87 201.54,517.84 202.42,517.82 203.29,517.80 204.17,517.77 205.05,517.75 205.92,517.72 206.80,517.70 207.67,517.67 208.55,517.64 209.43,517.61 210.30,517.59 211.18,517.56 212.05,517.53 212.93,517.49 213.81,517.46 214.68,517.43 215.56,517.40 216.44,517.36 217.31,517.33 218.19,517.29 219.06,517.25 219.94,517.22 220.82,517.18 221.69,517.14 222.57,517.10 223.44,517.06 224.32,517.02 225.20,516.97 226.07,516.93 226.95,516.88 227.83,516.83 228.70,516.79 229.58,516.74 230.45,516.69 231.33,516.64 232.21,516.58 233.08,516.53 233.96,516.47 234.83,516.42 235.71,516.36 236.59,516.30 237.46,516.24 238.34,516.18 239.22,516.11 240.09,516.05 240.97,515.98 241.84,515.91 242.72,515.84 243.60,515.77 244.47,515.70 245.35,515.62 246.22,515.55 247.10,515.47 247.98,515.39 248.85,515.30 249.73,515.22 250.61,515.13 251.48,515.04 252.36,514.95 253.23,514.86 254.11,514.76 254.99,514.67 255.86,514.57 256.74,514.46 257.61,514.36 258.49,514.25 259.37,514.14 260.24,514.03 261.12,513.91 261.99,513.79 262.87,513.67 263.75,513.55 264.62,513.42 265.50,513.29 266.38,513.16 267.25,513.03 268.13,512.89 269.00,512.75 269.88,512.60 270.76,512.45 271.63,512.30 272.51,512.14 273.38,511.98 274.26,511.82 275.14,511.65 276.01,511.48 276.89,511.31 277.77,511.13 278.64,510.95 279.52,510.76 280.39,510.57 281.27,510.37 282.15,510.17 283.02,509.97 283.90,509.76 284.77,509.54 285.65,509.32 286.53,509.10 287.40,508.87 288.28,508.64 289.16,508.40 290.03,508.15 290.91,507.90 291.78,507.64 292.66,507.38 293.54,507.12 294.41,506.84 295.29,506.56 296.16,506.28 297.04,505.99 297.92,505.69 298.79,505.38 299.67,505.07 300.55,504.76 301.42,504.43 302.30,504.10 303.17,503.76 304.05,503.42 304.93,503.06 305.80,502.70 306.68,502.34 307.55,501.96 308.43,501.58 309.31,501.19 310.18,500.79 311.06,500.38 311.94,499.97 312.81,499.55 313.69,499.12 314.56,498.68 315.44,498.23 316.32,497.77 317.19,497.31 318.07,496.83 318.94,496.35 319.82,495.86 320.70,495.36 321.57,494.84 322.45,494.32 323.33,493.79 324.20,493.26 325.08,492.71 325.95,492.15 326.83,491.58 327.71,491.00 328.58,490.42 329.46,489.82 330.33,489.21 331.21,488.59 332.09,487.97 332.96,487.33 333.84,486.68 334.72,486.03 335.59,485.36 336.47,484.68 337.34,484.00 338.22,483.30 339.10,482.59 339.97,481.87 340.85,481.15 341.72,480.41 342.60,479.66 343.48,478.91 344.35,478.14 345.23,477.37 346.11,476.58 346.98,475.79 347.86,474.99 348.73,474.18 349.61,473.36 350.49,472.53 351.36,471.69 352.24,470.84 353.11,469.99 353.99,469.13 354.87,468.26 355.74,467.38 356.62,466.50 357.50,465.61 358.37,464.71 359.25,463.80 360.12,462.89 361.00,461.98 361.88,461.05 362.75,460.13 363.63,459.19 364.50,458.26 365.38,457.32 366.26,456.37 367.13,455.42 368.01,454.47 368.89,453.52 369.76,452.56 370.64,451.60 371.51,450.64 372.39,449.68 373.27,448.71 374.14,447.75 375.02,446.79 375.89,445.82 376.77,444.86 377.65,443.90 378.52,442.94 379.40,441.98 380.28,441.02 381.15,440.07 382.03,439.11 382.90,438.17 383.78,437.22 384.66,436.28 385.53,435.35 386.41,434.42 387.28,433.49 388.16,432.57 389.04,431.66 389.91,430.75 390.79,429.85 391.67,428.95 392.54,428.07 393.42,427.19 394.29,426.31 395.17,425.45 396.05,424.59 396.92,423.75 397.80,422.91 398.67,422.08 399.55,421.26 400.43,420.45 401.30,419.65 402.18,418.86 403.06,418.07 403.93,417.30 404.81,416.54 405.68,415.79 406.56,415.05 407.44,414.32 408.31,413.60 409.19,412.89 410.06,412.20 410.94,411.51 411.82,410.84 412.69,410.17 413.57,409.52 414.45,408.88 415.32,408.24 416.20,407.62 417.07,407.01 417.95,406.42 418.83,405.83 419.70,405.25 420.58,404.69 421.45,404.13 422.33,403.59 423.21,403.05 424.08,402.53 424.96,402.02 425.84,401.52 426.71,401.03 427.59,400.55 428.46,400.07 429.34,399.61 430.22,399.16 431.09,398.72 431.97,398.29 432.84,397.87 433.72,397.46 434.60,397.05 435.47,396.66 436.35,396.27 437.23,395.90 438.10,395.53 438.98,395.17 439.85,394.82 440.73,394.48 441.61,394.15 442.48,393.82 443.36,393.50 444.23,393.19 445.11,392.89 445.99,392.59 446.86,392.31 447.74,392.03 448.62,391.75 449.49,391.49 450.37,391.23 451.24,390.97 452.12,390.73 453.00,390.49 453.87,390.25 454.75,390.03 455.62,389.80 456.50,389.59 457.38,389.38 458.25,389.17 459.13,388.97 460.01,388.78 460.88,388.59 461.76,388.41 462.63,388.23 463.51,388.05 464.39,387.88 465.26,387.72 466.14,387.56 467.01,387.40 467.89,387.25 468.77,387.10 469.64,386.96 470.52,386.82 471.40,386.68 472.27,386.55 473.15,386.42 474.02,386.30 474.90,386.18" fill="none" stroke="#d6bc9c" stroke-width="1.1" />
<polyline points="37.70,518.30 38.58,518.30 39.45,518.30 40.33,518.30 41.20,518.30 42.08,518.30 42.96,518.30 43.83,518.30 44.71,518.30 45.59,518.30 46.46,518.30 47.34,518.30 48.21,518.30 49.09,518.29 49.97,518.29 50.84,518.29 51.72,518.29 52.59,518.29 53.47,518.29 54.35,518.29 55.22,518.29 56.10,518.29 56.98,518.29 57.85,518.29 58.73,518.29 59.60,518.29 60.48,518.29 61.36,518.29 62.23,518.29 63.11,518.29 63.98,518.29 64.86,518.29 65.74,518.29 66.61,518.29 67.49,518.29 68.37,518.29 69.24,518.29 70.12,518.29 70.99,518.29 71.87,518.29 72.75,518.29 73.62,518.29 74.50,518.29 75.37,518.29 76.25,518.29 77.13,518.29 78.00,518.29 78.88,518.29 79.76,518.29 80.63,518.29 81.51,518.29 82.38,518.29 83.26,518.29 84.14,518.29 85.01,518.29 85.89,518.29 86.76,518.29 87.64,518.29 88.52,518.29 89.39,518.29 90.27,518.29 91.15,518.29 92.02,518.29 92.90,518.29 93.77,518.29 94.65,518.29 95.53,518.29 96.40,518.29 97.28,518.29 98.15,518.29 99.03,518.29 99.91,518.29 100.78,518.29 101.66,518.29 102.54,518.29 103.41,518.29 104.29,518.29 105.16,518.29 106.04,518.29 106.92,518.29 107.79,518.29 108.67,518.29 109.54,518.29 110.42,518.29 111.30,518.28 112.17,518.28 113.05,518.28 113.93,518.28 114.80,518.28 115.68,518.28 116.55,518.28 117.43,518.28 118.31,518.28 119.18,518.28 120.06,518.28 120.93,518.28 121.81,518.28 122.69,518.28 123.56,518.28 124.44,518.28 125.32,518.28 126.19,518.28 127.07,518.28 127.94,518.27 128.82,518.27 129.70,518.27 130.57,518.27 131.45,518.27 132.32,518.27 133.20,518.27 134.08,518.27 134.95,518.27 135.83,518.27 136.71,518.27 137.58,518.27 138.46,518.26 139.33,518.26 140.21,518.26 141.09,518.26 141.96,518.26 142.84,518.26 143.71,518.26 144.59,518.26 145.47,518.25 146.34,518.25 147.22,518.25 148.10,518.25 148.97,518.25 149.85,518.25 150.72,518.25 151.60,518.24 152.48,518.24 153.35,518.24 154.23,518.24 155.10,518.24 155.98,518.23 156.86,518.23 157.73,518.23 158.61,518.23 159.49,518.23 160.36,518.22 161.24,518.22 162.11,518.22 162.99,518.22 163.87,518.21 164.74,518.21 165.62,518.21 166.49,518.21 167.37,518.20 168.25,518.20 169.12,518.20 170.00,518.19 170.88,518.19 171.75,518.19 172.63,518.18 173.50,518.18 174.38,518.17 175.26,518.17 176.13,518.17 177.01,518.16 177.88,518.16 178.76,518.15 179.64,518.15 180.51,518.14 181.39,518.14 182.27,518.13 183.14,518.13 184.02,518.12 184.89,518.12 185.77,518.11 186.65,518.10 187.52,518.10 188.40,518.09 189.27,518.08 190.15,518.08 191.03,518.07 191.90,518.06 192.78,518.05 193.66,518.04 194.53,518.04 195.41,518.03 196.28,518.02 197.16,518.01 198.04,518.00 198.91,517.99 199.79,517.98 200.66,517.97 201.54,517.96 202.42,517.95 203.29,517.93 204.17,517.92 205.05,517.91 205.92,517.90 206.80,517.88 207.67,517.87 208.55,517.86 209.43,517.84 210.30,517.83 211.18,517.81 212.05,517.79 212.93,517.78 213.81,517.76 214.68,517.74 215.56,517.72 216.44,517.70 217.31,517.68 218.19,517.66 219.06,517.64 219.94,517.62 220.82,517.60 221.69,517.58 222.57,517.55 223.44,517.53 224.32,517.50 225.20,517.47 226.07,517.45 226.95,517.42 227.83,517.39 228.70,517.36 229.58,517.33 230.45,517.30 231.33,517.26 232.21,517.23 233.08,517.19 233.96,517.16 234.83,517.12 235.71,517.08 236.59,517.04 237.46,517.00 238.34,516.95 239.22,516.91 240.09,516.86 240.97,516.81 241.84,516.76 242.72,516.71 243.60,516.66 244.47,516.61 245.35,516.55 246.22,516.49 247.10,516.43 247.98,516.37 248.85,516.31 249.73,516.24 250.61,516.17 251.48,516.10 252.36,516.03 253.23,515.95 254.11,515.88 254.99,515.80 255.86,515.71 256.74,515.63 257.61,515.54 258.49,515.45 259.37,515.35 260.24,515.26 261.12,515.16 261.99,515.05 262.87,514.95 263.75,514.84 264.62,514.72 265.50,514.60 266.38,514.48 267.25,514.36 268.13,514.23 269.00,514.09 269.88,513.96 270.76,513.81 271.63,513.67 272.51,513.52 273.38,513.36 274.26,513.20 275.14,513.03 276.01,512.86 276.89,512.68 277.77,512.50 278.64,512.31 279.52,512.12 280.39,511.92 281.27,511.71 282.15,511.50 283.02,511.28 283.90,511.05 284.77,510.82 285.65,510.57 286.53,510.33 287.40,510.07 288.28,509.81 289.16,509.53 290.03,509.25 290.91,508.97 291.78,508.67 292.66,508.36 293.54,508.05 294.41,507.72 295.29,507.39 296.16,507.04 297.04,506.69 297.92,506.32 298.79,505.95 299.67,505.56 300.55,505.16 301.42,504.75 302.30,504.33 303.17,503.90 304.05,503.45 304.93,503.00 305.80,502.53 306.68,502.04 307.55,501.55 308.43,501.04 309.31,500.51 310.18,499.98 311.06,499.43 311.94,498.86 312.81,498.28 313.69,497.68 314.56,497.07 315.44,496.45 316.32,495.80 317.19,495.15 318.07,494.47 318.94,493.78 319.82,493.07 320.70,492.35 321.57,491.61 322.45,490.85 323.33,490.08 324.20,489.29 325.08,488.48 325.95,487.65 326.83,486.81 327.71,485.94 328.58,485.06 329.46,484.17 330.33,483.25 331.21,482.32 332.09,481.37 332.96,480.40 333.84,479.42 334.72,478.42 335.59,477.40 336.47,476.36 337.34,475.31 338.22,474.24 339.10,473.15 339.97,472.05 340.85,470.94 341.72,469.80 342.60,468.66 343.48,467.49 344.35,466.32 345.23,465.13 346.11,463.93 346.98,462.71 347.86,461.48 348.73,460.25 349.61,459.00 350.49,457.74 351.36,456.47 352.24,455.19 353.11,453.91 353.99,452.61 354.87,451.31 355.74,450.01 356.62,448.70 357.50,447.38 358.37,446.06 359.25,444.74 360.12,443.42 361.00,442.09 361.88,440.77 362.75,439.44 363.63,438.12 364.50,436.80 365.38,435.48 366.26,434.17 367.13,432.86 368.01,431.56 368.89,430.26 369.76,428.97 370.64,427.69 371.51,426.41 372.39,425.15 373.27,423.90 374.14,422.65 375.02,421.42 375.89,420.20 376.77,418.99 377.65,417.80 378.52,416.62 379.40,415.45 380.28,414.30 381.15,413.17 382.03,412.05 382.90,410.94 383.78,409.85 384.66,408.78 385.53,407.73 386.41,406.69 387.28,405.67 388.16,404.67 389.04,403.68 389.91,402.72 390.79,401.77 391.67,400.84 392.54,399.93 393.42,399.04 394.29,398.16 395.17,397.31 396.05,396.47 396.92,395.65 397.80,394.85 398.67,394.07 399.55,393.30 400.43,392.55 401.30,391.83 402.18,391.11 403.06,390.42 403.93,389.74 404.81,389.08 405.68,388.44 406.56,387.81 407.44,387.20 408.31,386.61 409.19,386.03 410.06,385.47 410.94,384.92 411.82,384.39 412.69,383.87 413.57,383.37 414.45,382.88 415.32,382.41 416.20,381.95 417.07,381.50 417.95,381.07 418.83,380.64 419.70,380.24 420.58,379.84 421.45,379.45 422.33,379.08 423.21,378.72 424.08,378.37 424.96,378.03 425.84,377.70 426.71,377.38 427.59,377.07 428.46,376.77 429.34,376.48 430.22,376.20 431.09,375.93 431.97,375.66 432.84,375.41 433.72,375.16 434.60,374.92 435.47,374.69 436.35,374.47 437.23,374.25 438.10,374.04 438.98,373.84 439.85,373.64 440.73,373.46 441.61,373.27 442.48,373.10 443.36,372.93 444.23,372.76 445.11,372.60 445.99,372.45 446.86,372.30 447.74,372.15 448.62,372.02 449.49,371.88 450.37,371.75 451.24,371.63 452.12,371.50 453.00,371.39 453.87,371.27 454.75,371.17 455.62,371.06 456.50,370.96 457.38,370.86 458.25,370.77 459.13,370.67 460.01,370.59 460.88,370.50 461.76,370.42 462.63,370.34 463.51,370.26 464.39,370.19 465.26,370.12 466.14,370.05 467.01,369.98 467.89,369.92 468.77,369.85 469.64,369.79 470.52,369.74 471.40,369.68 472.27,369.63 473.15,369.57 474.02,369.52 474.90,369.48" fill="none" stroke="#f88a8a" stroke-width="1.1" />
<polyline points="37.70,519.09 38.58,519.09 39.45,519.09 40.33,519.09 41.20,519.09 42.08,519.09 42.96,519.09 43.83,519.09 44.71,519.09 45.59,519.09 46.46,519.09 47.34,519.09 48.21,519.09 49.09,519.09 49.97,519.09 50.84,519.09 51.72,519.09 52.59,519.09 53.47,519.09 54.35,519.09 55.22,519.09 56.10,519.09 56.98,519.09 57.85,519.09 58.73,519.09 59.60,519.09 60.48,519.09 61.36,519.09 62.23,519.09 63.11,519.09 63.98,519.09 64.86,519.09 65.74,519.09 66.61,519.09 67.49,519.09 68.37,519.09 69.24,519.09 70.12,519.09 70.99,519.09 71.87,519.09 72.75,519.09 73.62,519.09 74.50,519.09 75.37,519.09 76.25,519.09 77.13,519.09 78.00,519.09 78.88,519.09 79.76,519.09 80.63,519.09 81.51,519.09 82.38,519.09 83.26,519.09 84.14,519.09 85.01,519.09 85.89,519.09 86.76,519.09 87.64,519.09 88.52,519.09 89.39,519.09 90.27,519.09 91.15,519.09 92.02,519.09 92.90,519.09 93.77,519.09 94.65,519.09 95.53,519.09 96.40,519.09 97.28,519.09 98.15,519.09 99.03,519.09 99.91,519.09 100.78,519.09 101.66,519.09 102.54,519.09 103.41,519.09 104.29,519.09 105.16,519.09 106.04,519.09 106.92,519.09 107.79,519.09 108.67,519.09 109.54,519.09 110.42,519.09 111.30,519.09 112.17,519.09 113.05,519.09 113.93,519.09 114.80,519.09 115.68,519.09 116.55,519.09 117.43,519.09 118.31,519.09 119.18,519.09 120.06,519.09 120.93,519.09 121.81,519.09 122.69,519.09 123.56,519.09 124.44,519.09 125.32,519.09 126.19,519.09 127.07,519.09 127.94,519.09 128.82,519.09 129.70,519.09 130.57,519.09 131.45,519.09 132.32,519.09 133.20,519.09 134.08,519.09 134.95,519.08 135.83,519.08 136.71,519.08 137.58,519.08 138.46,519.08 139.33,519.08 140.21,519.08 141.09,519.08 141.96,519.08 142.84,519.08 143.71,519.08 144.59,519.08 145.47,519.08 146.34,519.08 147.22,519.08 148.10,519.08 148.97,519.08 149.85,519.08 150.72,519.08 151.60,519.08 152.48,519.08 153.35,519.08 154.23,519.08 155.10,519.08 155.98,519.08 156.86,519.08 157.73,519.08 158.61,519.08 159.49,519.08 160.36,519.08 161.24,519.08 162.11,519.08 162.99,519.08 163.87,519.08 164.74,519.08 165.62,519.08 166.49,519.08 167.37,519.08 168.25,519.08 169.12,519.08 170.00,519.08 170.88,519.08 171.75,519.08 172.63,519.08 173.50,519.08 174.38,519.08 175.26,519.08 176.13,519.08 177.01,519.08 177.88,519.08 178.76,519.08 179.64,519.08 180.51,519.08 181.39,519.08 182.27,519.07 183.14,519.07 184.02,519.07 184.89,519.07 185.77,519.07 186.65,519.07 187.52,519.07 188.40,519.07 189.27,519.07 190.15,519.07 191.03,519.07 191.90,519.07 192.78,519.07 193.66,519.06 194.53,519.06 195.41,519.06 196.28,519.06 197.16,519.06 198.04,519.06 198.91,519.06 199.79,519.06 200.66,519.05 201.54,519.05 202.42,519.05 203.29,519.05 204.17,519.05 205.05,519.05 205.92,519.04 206.80,519.04 207.67,519.04 208.55,519.04 209.43,519.03 210.30,519.03 211.18,519.03 212.05,519.03 212.93,519.02 213.81,519.02 214.68,519.02 215.56,519.01 216.44,519.01 217.31,519.01 218.19,519.00 219.06,519.00 219.94,518.99 220.82,518.99 221.69,518.98 222.57,518.98 223.44,518.97 224.32,518.97 225.20,518.96 226.07,518.96 226.95,518.95 227.83,518.94 228.70,518.94 229.58,518.93 230.45,518.92 231.33,518.91 232.21,518.90 233.08,518.89 233.96,518.88 234.83,518.87 235.71,518.86 236.59,518.85 237.46,518.84 238.34,518.83 239.22,518.81 240.09,518.80 240.97,518.79 241.84,518.77 242.72,518.75 243.60,518.74 244.47,518.72 245.35,518.70 246.22,518.68 247.10,518.66 247.98,518.64 248.85,518.62 249.73,518.59 250.61,518.57 251.48,518.54 252.36,518.52 253.23,518.49 254.11,518.46 254.99,518.43 255.86,518.39 256.74,518.36 257.61,518.32 258.49,518.28 259.37,518.24 260.24,518.20 261.12,518.16 261.99,518.11 262.87,518.06 263.75,518.01 264.62,517.95 265.50,517.90 266.38,517.84 267.25,517.77 268.13,517.71 269.00,517.64 269.88,517.57 270.76,517.49 271.63,517.41 272.51,517.33 273.38,517.24 274.26,517.15 275.14,517.05 276.01,516.95 276.89,516.84 277.77,516.73 278.64,516.61 279.52,516.49 280.39,516.36 281.27,516.23 282.15,516.08 283.02,515.94 283.90,515.78 284.77,515.62 285.65,515.44 286.53,515.26 287.40,515.08 288.28,514.88 289.16,514.67 290.03,514.46 290.91,514.23 291.78,513.99 292.66,513.74 293.54,513.48 294.41,513.21 295.29,512.93 296.16,512.63 297.04,512.32 297.92,511.99 298.79,511.65 299.67,511.30 300.55,510.93 301.42,510.54 302.30,510.13 303.17,509.71 304.05,509.27 304.93,508.81 305.80,508.33 306.68,507.83 307.55,507.30 308.43,506.76 309.31,506.19 310.18,505.61 311.06,504.99 311.94,504.36 312.81,503.69 313.69,503.01 314.56,502.29 315.44,501.55 316.32,500.78 317.19,499.99 318.07,499.16 318.94,498.31 319.82,497.42 320.70,496.51 321.57,495.57 322.45,494.60 323.33,493.59 324.20,492.56 325.08,491.50 325.95,490.40 326.83,489.28 327.71,488.12 328.58,486.94 329.46,485.72 330.33,484.48 331.21,483.20 332.09,481.90 332.96,480.58 333.84,479.23 334.72,477.85 335.59,476.45 336.47,475.02 337.34,473.58 338.22,472.11 339.10,470.63 339.97,469.13 340.85,467.62 341.72,466.09 342.60,464.55 343.48,463.00 344.35,461.45 345.23,459.89 346.11,458.33 346.98,456.76 347.86,455.20 348.73,453.64 349.61,452.08 350.49,450.54 351.36,449.00 352.24,447.47 353.11,445.96 353.99,444.46 354.87,442.97 355.74,441.51 356.62,440.06 357.50,438.64 358.37,437.24 359.25,435.86 360.12,434.51 361.00,433.19 361.88,431.89 362.75,430.62 363.63,429.38 364.50,428.17 365.38,426.99 366.26,425.84 367.13,424.72 368.01,423.63 368.89,422.57 369.76,421.55 370.64,420.55 371.51,419.59 372.39,418.66 373.27,417.76 374.14,416.89 375.02,416.05 375.89,415.23 376.77,414.45 377.65,413.70 378.52,412.97 379.40,412.28 380.28,411.60 381.15,410.96 382.03,410.34 382.90,409.74 383.78,409.17 384.66,408.62 385.53,408.10 386.41,407.60 387.28,407.12 388.16,406.65 389.04,406.21 389.91,405.79 390.79,405.39 391.67,405.00 392.54,404.63 393.42,404.28 394.29,403.95 395.17,403.62 396.05,403.32 396.92,403.03 397.80,402.75 398.67,402.48 399.55,402.23 400.43,401.99 401.30,401.76 402.18,401.54 403.06,401.33 403.93,401.13 404.81,400.94 405.68,400.76 406.56,400.59 407.44,400.42 408.31,400.27 409.19,400.12 410.06,399.98 410.94,399.85 411.82,399.72 412.69,399.60 413.57,399.48 414.45,399.37 415.32,399.27 416.20,399.17 417.07,399.07 417.95,398.99 418.83,398.90 419.70,398.82 420.58,398.74 421.45,398.67 422.33,398.60 423.21,398.53 424.08,398.47 424.96,398.41 425.84,398.36 426.71,398.30 427.59,398.25 428.46,398.20 429.34,398.16 430.22,398.11 431.09,398.07 431.97,398.03 432.84,397.99 433.72,397.96 434.60,397.93 435.47,397.89 436.35,397.86 437.23,397.83 438.10,397.81 438.98,397.78 439.85,397.76 440.73,397.73 441.61,397.71 442.48,397.69 443.36,397.67 444.23,397.65 445.11,397.63 445.99,397.61 446.86,397.60 447.74,397.58 448.62,397.57 449.49,397.55 450.37,397.54 451.24,397.53 452.12,397.52 453.00,397.50 453.87,397.49 454.75,397.48 455.62,397.47 456.50,397.47 457.38,397.46 458.25,397.45 459.13,397.44 460.01,397.43 460.88,397.43 461.76,397.42 462.63,397.41 463.51,397.41 464.39,397.40 465.26,397.40 466.14,397.39 467.01,397.39 467.89,397.38 468.77,397.38 469.64,397.37 470.52,397.37 471.40,397.36 472.27,397.36 473.15,397.36 474.02,397.35 474.90,397.35" fill="none" stroke="#8a8af2" stroke-width="1.1" />
<polyline points="37.70,517.62 38.58,517.62 39.45,517.62 40.33,517.62 41.20,517.62 42.08,517.62 42.96,517.62 43.83,517.62 44.71,517.62 45.59,517.62 46.46,517.62 47.34,517.62 48.21,517.62 49.09,517.62 49.97,517.62 50.84,517.61 51.72,517.61 52.59,517.61 53.47,517.61 54.35,517.61 55.22,517.61 56.10,517.61 56.98,517.61 57.85,517.61 58.73,517.61 59.60,517.60 60.48,517.60 61.36,517.60 62.23,517.60 63.11,517.60 63.98,517.60 64.86,517.60 65.74,517.60 66.61,517.60 67.49,517.59 68.37,517.59 69.24,517.59 70.12,517.59 70.99,517.59 71.87,517.59 72.75,517.59 73.62,517.58 74.50,517.58 75.37,517.58 76.25,517.58 77.13,517.58 78.00,517.57 78.88,517.57 79.76,517.57 80.63,517.57 81.51,517.57 82.38,517.57 83.26,517.56 84.14,517.56 85.01,517.56 85.89,517.56 86.76,517.55 87.64,517.55 88.52,517.55 89.39,517.55 90.27,517.54 91.15,517.54 92.02,517.54 92.90,517.54 93.77,517.53 94.65,517.53 95.53,517.53 96.40,517.52 97.28,517.52 98.15,517.52 99.03,517.51 99.91,517.51 100.78,517.51 101.66,517.50 102.54,517.50 103.41,517.49 104.29,517.49 105.16,517.49 106.04,517.48 106.92,517.48 107.79,517.47 108.67,517.47 109.54,517.46 110.42,517.46 111.30,517.45 112.17,517.45 113.05,517.44 113.93,517.44 114.80,517.43 115.68,517.43 116.55,517.42 117.43,517.42 118.31,517.41 119.18,517.40 120.06,517.40 120.93,517.39 121.81,517.38 122.69,517.38 123.56,517.37 124.44,517.36 125.32,517.36 126.19,517.35 127.07,517.34 127.94,517.33 128.82,517.32 129.70,517.31 130.57,517.31 131.45,517.30 132.32,517.29 133.20,517.28 134.08,517.27 134.95,517.26 135.83,517.25 136.71,517.24 137.58,517.23 138.46,517.22 139.33,517.20 140.21,517.19 141.09,517.18 141.96,517.17 142.84,517.16 143.71,517.14 144.59,517.13 145.47,517.12 146.34,517.10 147.22,517.09 148.10,517.07 148.97,517.06 149.85,517.04 150.72,517.03 151.60,517.01 152.48,516.99 153.35,516.98 154.23,516.96 155.10,516.94 155.98,516.92 156.86,516.90 157.73,516.88 158.61,516.86 159.49,516.84 160.36,516.82 161.24,516.80 162.11,516.78 162.99,516.75 163.87,516.73 164.74,516.70 165.62,516.68 166.49,516.65 167.37,516.63 168.25,516.60 169.12,516.57 170.00,516.55 170.88,516.52 171.75,516.49 172.63,516.46 173.50,516.42 174.38,516.39 175.26,516.36 176.13,516.33 177.01,516.29 177.88,516.26 178.76,516.22 179.64,516.18 180.51,516.14 181.39,516.10 182.27,516.06 183.14,516.02 184.02,515.98 184.89,515.93 185.77,515.89 186.65,515.84 187.52,515.80 188.40,515.75 189.27,515.70 190.15,515.65 191.03,515.59 191.90,515.54 192.78,515.48 193.66,515.43 194.53,515.37 195.41,515.31 196.28,515.25 197.16,515.18 198.04,515.12 198.91,515.05 199.79,514.99 200.66,514.92 201.54,514.85 202.42,514.77 203.29,514.70 204.17,514.62 205.05,514.54 205.92,514.46 206.80,514.38 207.67,514.29 208.55,514.20 209.43,514.12 210.30,514.02 211.18,513.93 212.05,513.83 212.93,513.73 213.81,513.63 214.68,513.53 215.56,513.42 216.44,513.31 217.31,513.20 218.19,513.08 219.06,512.96 219.94,512.84 220.82,512.72 221.69,512.59 222.57,512.46 223.44,512.33 224.32,512.19 225.20,512.05 226.07,511.91 226.95,511.76 227.83,511.61 228.70,511.45 229.58,511.29 230.45,511.13 231.33,510.96 232.21,510.79 233.08,510.62 233.96,510.44 234.83,510.25 235.71,510.07 236.59,509.87 237.46,509.67 238.34,509.47 239.22,509.26 240.09,509.05 240.97,508.83 241.84,508.61 242.72,508.38 243.60,508.15 244.47,507.91 245.35,507.67 246.22,507.41 247.10,507.16 247.98,506.89 248.85,506.63 249.73,506.35 250.61,506.07 251.48,505.78 252.36,505.48 253.23,505.18 254.11,504.87 254.99,504.56 255.86,504.23 256.74,503.90 257.61,503.56 258.49,503.22 259.37,502.86 260.24,502.50 261.12,502.13 261.99,501.75 262.87,501.36 263.75,500.97 264.62,500.56 265.50,500.15 266.38,499.73 267.25,499.30 268.13,498.85 269.00,498.40 269.88,497.94 270.76,497.47 271.63,496.99 272.51,496.50 273.38,496.00 274.26,495.49 275.14,494.97 276.01,494.44 276.89,493.89 277.77,493.34 278.64,492.77 279.52,492.20 280.39,491.61 281.27,491.01 282.15,490.40 283.02,489.77 283.90,489.14 284.77,488.49 285.65,487.83 286.53,487.15 287.40,486.47 288.28,485.77 289.16,485.06 290.03,484.33 290.91,483.60 291.78,482.85 292.66,482.08 293.54,481.31 294.41,480.51 295.29,479.71 296.16,478.89 297.04,478.06 297.92,477.22 298.79,476.36 299.67,475.48 300.55,474.60 301.42,473.70 302.30,472.78 303.17,471.85 304.05,470.91 304.93,469.95 305.80,468.98 306.68,467.99 307.55,467.00 308.43,465.98 309.31,464.96 310.18,463.91 311.06,462.86 311.94,461.79 312.81,460.71 313.69,459.61 314.56,458.50 315.44,457.38 316.32,456.25 317.19,455.10 318.07,453.94 318.94,452.76 319.82,451.58 320.70,450.38 321.57,449.17 322.45,447.94 323.33,446.71 324.20,445.46 325.08,444.20 325.95,442.93 326.83,441.65 327.71,440.36 328.58,439.06 329.46,437.75 330.33,436.43 331.21,435.11 332.09,433.77 332.96,432.42 333.84,431.07 334.72,429.70 335.59,428.33 336.47,426.96 337.34,425.57 338.22,424.18 339.10,422.79 339.97,421.39 340.85,419.98 341.72,418.57 342.60,417.15 343.48,415.73 344.35,414.31 345.23,412.89 346.11,411.46 346.98,410.03 347.86,408.60 348.73,407.16 349.61,405.73 350.49,404.29 351.36,402.86 352.24,401.43 353.11,400.00 353.99,398.57 354.87,397.14 355.74,395.71 356.62,394.29 357.50,392.87 358.37,391.45 359.25,390.04 360.12,388.63 361.00,387.23 361.88,385.83 362.75,384.44 363.63,383.05 364.50,381.67 365.38,380.30 366.26,378.94 367.13,377.58 368.01,376.23 368.89,374.89 369.76,373.56 370.64,372.24 371.51,370.92 372.39,369.62 373.27,368.32 374.14,367.04 375.02,365.77 375.89,364.50 376.77,363.25 377.65,362.01 378.52,360.78 379.40,359.56 380.28,358.36 381.15,357.17 382.03,355.98 382.90,354.82 383.78,353.66 384.66,352.52 385.53,351.39 386.41,350.27 387.28,349.16 388.16,348.07 389.04,346.99 389.91,345.93 390.79,344.88 391.67,343.84 392.54,342.82 393.42,341.81 394.29,340.81 395.17,339.83 396.05,338.86 396.92,337.90 397.80,336.96 398.67,336.03 399.55,335.12 400.43,334.21 401.30,333.33 402.18,332.45 403.06,331.59 403.93,330.75 404.81,329.91 405.68,329.09 406.56,328.28 407.44,327.49 408.31,326.71 409.19,325.94 410.06,325.19 410.94,324.45 411.82,323.72 412.69,323.00 413.57,322.30 414.45,321.60 415.32,320.92 416.20,320.26 417.07,319.60 417.95,318.96 418.83,318.33 419.70,317.71 420.58,317.10 421.45,316.50 422.33,315.91 423.21,315.34 424.08,314.78 424.96,314.22 425.84,313.68 426.71,313.15 427.59,312.63 428.46,312.11 429.34,311.61 430.22,311.12 431.09,310.64 431.97,310.17 432.84,309.70 433.72,309.25 434.60,308.81 435.47,308.37 436.35,307.95 437.23,307.53 438.10,307.12 438.98,306.72 439.85,306.33 440.73,305.94 441.61,305.57 442.48,305.20 443.36,304.84 444.23,304.49 445.11,304.14 445.99,303.81 446.86,303.48 447.74,303.15 448.62,302.84 449.49,302.53 450.37,302.22 451.24,301.93 452.12,301.64 453.00,301.36 453.87,301.08 454.75,300.81 455.62,300.54 456.50,300.28 457.38,300.03 458.25,299.78 459.13,299.54 460.01,299.30 460.88,299.07 461.76,298.84 462.63,298.62 463.51,298.41 464.39,298.19 465.26,297.99 466.14,297.79 467.01,297.59 467.89,297.39 468.77,297.21 469.64,297.02 470.52,296.84 471.40,296.67 472.27,296.49 473.15,296.33 474.02,296.16 474.90,296.00" fill="none" stroke="#de8a94" stroke-width="1.1" />
<rect x="35.85" y="516.15" width="3.7" height="3.7" fill="#007800"/>
<rect x="145.15" y="516.15" width="3.7" height="3.7" fill="#007800"/>
<rect x="254.45" y="508.35" width="3.7" height="3.7" fill="#007800"/>
<rect x="330.85" y="462.45" width="3.7" height="3.7" fill="#007800"/>
<rect x="363.75" y="421.65" width="3.7" height="3.7" fill="#007800"/>
<rect x="383.00" y="400.25" width="3.7" height="3.7" fill="#007800"/>
<rect x="396.65" y="387.55" width="3.7" height="3.7" fill="#007800"/>
<rect x="415.90" y="374.85" width="3.7" height="3.7" fill="#007800"/>
<polygon points="37.70,517.30 39.40,519.00 37.70,520.70 36.00,519.00" fill="#b070d8" fill-opacity="0.35" stroke="#b070d8" stroke-width="0.8"/>
<polygon points="147.00,517.30 148.70,519.00 147.00,520.70 145.30,519.00" fill="#b070d8" fill-opacity="0.35" stroke="#b070d8" stroke-width="0.8"/>
<polygon points="256.30,516.30 258.00,518.00 256.30,519.70 254.60,518.00" fill="#b070d8" fill-opacity="0.35" stroke="#b070d8" stroke-width="0.8"/>
<polygon points="332.70,500.80 334.40,502.50 332.70,504.20 331.00,502.50" fill="#b070d8" fill-opacity="0.35" stroke="#b070d8" stroke-width="0.8"/>
<polygon points="365.60,458.30 367.30,460.00 365.60,461.70 363.90,460.00" fill="#b070d8" fill-opacity="0.35" stroke="#b070d8" stroke-width="0.8"/>
<polygon points="384.85,409.30 386.55,411.00 384.85,412.70 383.15,411.00" fill="#b070d8" fill-opacity="0.35" stroke="#b070d8" stroke-width="0.8"/>
<polygon points="398.50,392.80 400.20,394.50 398.50,396.20 396.80,394.50" fill="#b070d8" fill-opacity="0.35" stroke="#b070d8" stroke-width="0.8"/>
<polygon points="417.75,380.70 419.45,382.40 417.75,384.10 416.05,382.40" fill="#b070d8" fill-opacity="0.35" stroke="#b070d8" stroke-width="0.8"/>
<polygon points="37.70,516.60 39.40,519.90 36.00,519.90" fill="#bfa07a" fill-opacity="0.55" stroke="#bfa07a" stroke-width="0.6"/>
<polygon points="147.00,516.60 148.70,519.90 145.30,519.90" fill="#bfa07a" fill-opacity="0.55" stroke="#bfa07a" stroke-width="0.6"/>
<polygon points="256.30,513.20 258.00,516.50 254.60,516.50" fill="#bfa07a" fill-opacity="0.55" stroke="#bfa07a" stroke-width="0.6"/>
<polygon points="332.70,484.80 334.40,488.10 331.00,488.10" fill="#bfa07a" fill-opacity="0.55" stroke="#bfa07a" stroke-width="0.6"/>
<polygon points="365.60,458.30 367.30,461.60 363.90,461.60" fill="#bfa07a" fill-opacity="0.55" stroke="#bfa07a" stroke-width="0.6"/>
<polygon points="384.85,433.80 386.55,437.10 383.15,437.10" fill="#bfa07a" fill-opacity="0.55" stroke="#bfa07a" stroke-width="0.6"/>
<polygon points="398.50,417.20 400.20,420.50 396.80,420.50" fill="#bfa07a" fill-opacity="0.55" stroke="#bfa07a" stroke-width="0.6"/>
<polygon points="417.75,406.80 419.45,410.10 416.05,410.10" fill="#bfa07a" fill-opacity="0.55" stroke="#bfa07a" stroke-width="0.6"/>
<rect x="36.15" y="516.95" width="3.1" height="3.1" fill="#fff" stroke="#f04040" stroke-width="0.85"/>
<rect x="145.45" y="516.45" width="3.1" height="3.1" fill="#fff" stroke="#f04040" stroke-width="0.85"/>
<rect x="254.75" y="513.55" width="3.1" height="3.1" fill="#fff" stroke="#f04040" stroke-width="0.85"/>
<rect x="331.15" y="479.85" width="3.1" height="3.1" fill="#fff" stroke="#f04040" stroke-width="0.85"/>
<rect x="364.05" y="434.35" width="3.1" height="3.1" fill="#fff" stroke="#f04040" stroke-width="0.85"/>
<rect x="383.30" y="406.45" width="3.1" height="3.1" fill="#fff" stroke="#f04040" stroke-width="0.85"/>
<rect x="396.95" y="392.55" width="3.1" height="3.1" fill="#fff" stroke="#f04040" stroke-width="0.85"/>
<rect x="416.20" y="380.25" width="3.1" height="3.1" fill="#fff" stroke="#f04040" stroke-width="0.85"/>
<polygon points="37.70,517.60 39.60,521.10 35.80,521.10" fill="#0000c8"/>
<polygon points="147.00,517.60 148.90,521.10 145.10,521.10" fill="#0000c8"/>
<polygon points="256.30,516.40 258.20,519.90 254.40,519.90" fill="#0000c8"/>
<polygon points="332.70,479.40 334.60,482.90 330.80,482.90" fill="#0000c8"/>
<polygon points="365.60,424.60 367.50,428.10 363.70,428.10" fill="#0000c8"/>
<polygon points="384.85,406.80 386.75,410.30 382.95,410.30" fill="#0000c8"/>
<polygon points="398.50,400.50 400.40,404.00 396.60,404.00" fill="#0000c8"/>
<polygon points="417.75,397.30 419.65,400.80 415.85,400.80" fill="#0000c8"/>
<circle cx="37.70" cy="514.90" r="1.9" fill="#a00000"/>
<circle cx="147.00" cy="516.60" r="1.9" fill="#a00000"/>
<circle cx="256.30" cy="505.80" r="1.9" fill="#a00000"/>
<circle cx="332.70" cy="428.40" r="1.9" fill="#a00000"/>
<circle cx="365.60" cy="384.20" r="1.9" fill="#a00000"/>
<circle cx="384.85" cy="352.90" r="1.9" fill="#a00000"/>
<circle cx="398.50" cy="335.30" r="1.9" fill="#a00000"/>
<circle cx="417.75" cy="319.40" r="1.9" fill="#a00000"/>
<text x="36.40" y="522.10" text-anchor="end" class="tk">0</text>
<text x="36.40" y="492.62" text-anchor="end" class="tk">0.4</text>
<text x="36.40" y="463.15" text-anchor="end" class="tk">0.8</text>
<text x="36.40" y="433.68" text-anchor="end" class="tk">1.2</text>
<text x="36.40" y="404.20" text-anchor="end" class="tk">1.6</text>
<text x="36.40" y="374.72" text-anchor="end" class="tk">2</text>
<text x="36.40" y="345.25" text-anchor="end" class="tk">2.4</text>
<text x="36.40" y="315.78" text-anchor="end" class="tk">2.8</text>
<text x="36.40" y="286.30" text-anchor="end" class="tk">3.2</text>
<text x="38.00" y="527.40" text-anchor="middle" class="tk">0.01</text>
<text x="147.00" y="527.40" text-anchor="middle" class="tk">0.1</text>
<text x="256.60" y="527.40" text-anchor="middle" class="tk">1</text>
<text x="366.10" y="527.40" text-anchor="middle" class="tk">10</text>
<text x="472.30" y="527.40" text-anchor="middle" class="tk">100</text>
<circle cx="156.4" cy="351.00" r="2.88" fill="#a00000"/>
<text x="163.4" y="353.90" class="lgn" style="font-size:8.4px" textLength="33.4" lengthAdjust="spacingAndGlyphs">ZEBOV GP</text>
<text y="354.70" class="ec" style="font-size:9.5px"><tspan x="205.3" textLength="21.8" lengthAdjust="spacingAndGlyphs">EC50</tspan> <tspan x="228.5" class="eq" textLength="3.9" lengthAdjust="spacingAndGlyphs">=</tspan> <tspan x="234.5" textLength="12.5" lengthAdjust="spacingAndGlyphs">7.4</tspan></text>
<rect x="153.34" y="362.54" width="6.12" height="6.12" fill="#007a00"/>
<text x="163.4" y="368.35" class="lgn" style="font-size:8.4px" textLength="30.2" lengthAdjust="spacingAndGlyphs">SUDV GP</text>
<text y="369.15" class="ec" style="font-size:9.5px"><tspan x="205.3" textLength="21.8" lengthAdjust="spacingAndGlyphs">EC50</tspan> <tspan x="228.5" class="eq" textLength="3.9" lengthAdjust="spacingAndGlyphs">=</tspan> <tspan x="234.5" textLength="12.5" lengthAdjust="spacingAndGlyphs">7.9</tspan></text>
<polygon points="156.4,376.96 159.64,382.72 153.16,382.72" fill="#0000c0"/>
<text x="163.4" y="382.80" class="lgn" style="font-size:8.4px" textLength="32.7" lengthAdjust="spacingAndGlyphs">MARV GP</text>
<text y="383.60" class="ec" style="font-size:9.5px"><tspan x="205.3" textLength="21.8" lengthAdjust="spacingAndGlyphs">EC50</tspan> <tspan x="228.5" class="eq" textLength="3.9" lengthAdjust="spacingAndGlyphs">=</tspan> <tspan x="234.5" textLength="12.5" lengthAdjust="spacingAndGlyphs">6.6</tspan></text>
<polygon points="156.4,391.83 159.37,394.80 156.4,397.77 153.43,394.80" fill="#fff" stroke="#c09ae0" stroke-width="1"/>
<text x="163.4" y="397.25" class="lgn" style="font-size:8.4px" textLength="29.7" lengthAdjust="spacingAndGlyphs">BDBV GP</text>
<text y="398.05" class="ec" style="font-size:9.5px"><tspan x="205.3" textLength="21.8" lengthAdjust="spacingAndGlyphs">EC50</tspan> <tspan x="228.5" class="eq" textLength="3.9" lengthAdjust="spacingAndGlyphs">=</tspan> <tspan x="234.5" textLength="17.0" lengthAdjust="spacingAndGlyphs">10.8</tspan></text>
<rect x="153.70" y="406.70" width="5.40" height="5.40" fill="#fff" stroke="#f04848" stroke-width="1.2"/>
<text x="163.4" y="411.70" class="lgn" style="font-size:8.4px" textLength="28.0" lengthAdjust="spacingAndGlyphs">RESV GP</text>
<text y="412.50" class="ec" style="font-size:9.5px"><tspan x="205.3" textLength="21.8" lengthAdjust="spacingAndGlyphs">EC50</tspan> <tspan x="228.5" class="eq" textLength="3.9" lengthAdjust="spacingAndGlyphs">=</tspan> <tspan x="234.5" textLength="12.5" lengthAdjust="spacingAndGlyphs">9.0</tspan></text>
<polygon points="156.4,421.57 158.74,426.16 154.06,426.16" fill="#fff" stroke="#bba27e" stroke-width="1.0"/>
<text x="163.4" y="426.15" class="lgn" style="font-size:8.4px" textLength="27.0" lengthAdjust="spacingAndGlyphs">TAFV GP</text>
<text y="426.95" class="ec" style="font-size:9.5px"><tspan x="205.3" textLength="21.8" lengthAdjust="spacingAndGlyphs">EC50</tspan> <tspan x="228.5" class="eq" textLength="3.9" lengthAdjust="spacingAndGlyphs">=</tspan> <tspan x="234.5" textLength="17.0" lengthAdjust="spacingAndGlyphs">11.6</tspan></text>
<text x="46.5" y="27.9" class="pl" textLength="19.3" lengthAdjust="spacingAndGlyphs">(a)</text>
<text x="44.6" y="306.5" class="pl" textLength="21.3" lengthAdjust="spacingAndGlyphs">(b)</text>
<text x="219.0" y="267.0" class="ttl" style="font-size:13.4px" textLength="100.6" lengthAdjust="spacingAndGlyphs">scFv4-2 (μg/mL)</text>
<text x="211.3" y="542.4" class="ttl" style="font-size:13.4px" textLength="108.4" lengthAdjust="spacingAndGlyphs">scFv22-1 (μg/mL)</text>
<text transform="translate(16.7,196.2) rotate(-90)" class="ttl" style="font-size:16px" textLength="139" lengthAdjust="spacingAndGlyphs">Absorbance at 450 nm</text>
<text transform="translate(16.7,472.2) rotate(-90)" class="ttl" style="font-size:16px" textLength="139.8" lengthAdjust="spacingAndGlyphs">Absorbance at 450 nm</text>
</svg>
</body></html>
